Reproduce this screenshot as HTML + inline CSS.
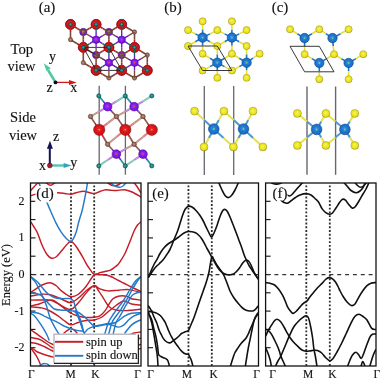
<!DOCTYPE html>
<html><head><meta charset="utf-8"><style>
html,body{margin:0;padding:0;background:#fff;width:382px;height:380px;overflow:hidden}
svg{display:block}
</style></head><body>
<svg width="382" height="380" viewBox="0 0 382 380">
<defs>
<radialGradient id="gRed" cx="0.47" cy="0.45" r="0.56"><stop offset="0" stop-color="#e83030"/><stop offset="0.6" stop-color="#d81212"/><stop offset="0.86" stop-color="#d81212"/><stop offset="1" stop-color="#a80c14"/></radialGradient>
<radialGradient id="gPur" cx="0.47" cy="0.45" r="0.56"><stop offset="0" stop-color="#9a40ff"/><stop offset="0.6" stop-color="#7e14ea"/><stop offset="0.86" stop-color="#7e14ea"/><stop offset="1" stop-color="#5a0cb0"/></radialGradient>
<radialGradient id="gBrn" cx="0.47" cy="0.45" r="0.56"><stop offset="0" stop-color="#c09080"/><stop offset="0.6" stop-color="#9a6a5a"/><stop offset="0.86" stop-color="#9a6a5a"/><stop offset="1" stop-color="#6a4038"/></radialGradient>
<radialGradient id="gTeal" cx="0.47" cy="0.45" r="0.56"><stop offset="0" stop-color="#40b0b0"/><stop offset="0.6" stop-color="#108080"/><stop offset="0.86" stop-color="#108080"/><stop offset="1" stop-color="#0a5858"/></radialGradient>
<radialGradient id="gBlue" cx="0.47" cy="0.45" r="0.56"><stop offset="0" stop-color="#3a94e4"/><stop offset="0.6" stop-color="#1a72cc"/><stop offset="0.86" stop-color="#1a72cc"/><stop offset="1" stop-color="#0c4890"/></radialGradient>
<radialGradient id="gYel" cx="0.47" cy="0.45" r="0.56"><stop offset="0" stop-color="#f8f460"/><stop offset="0.6" stop-color="#eae41c"/><stop offset="0.86" stop-color="#eae41c"/><stop offset="1" stop-color="#b0a010"/></radialGradient>
<clipPath id="cp0"><rect x="30.50" y="183.00" width="110.50" height="183.00"/></clipPath>
<clipPath id="cp1"><rect x="148.00" y="183.00" width="110.50" height="183.00"/></clipPath>
<clipPath id="cp2"><rect x="265.60" y="183.00" width="110.40" height="183.00"/></clipPath>
</defs>
<rect width="382" height="380" fill="#fff"/>
<circle cx="83.30" cy="32.00" r="3.65" fill="url(#gPur)" stroke="#3a0a70" stroke-width="0.5"/>
<circle cx="108.90" cy="32.00" r="3.65" fill="url(#gPur)" stroke="#3a0a70" stroke-width="0.5"/>
<circle cx="96.10" cy="55.00" r="3.65" fill="url(#gPur)" stroke="#3a0a70" stroke-width="0.5"/>
<circle cx="121.70" cy="55.00" r="3.65" fill="url(#gPur)" stroke="#3a0a70" stroke-width="0.5"/>
<circle cx="70.50" cy="24.40" r="5.05" fill="url(#gRed)" stroke="#6a0a1a" stroke-width="0.5"/>
<circle cx="70.50" cy="24.40" r="4.85" fill="none" stroke="#8a0c18" stroke-width="0.7"/>
<circle cx="96.10" cy="24.40" r="5.05" fill="url(#gRed)" stroke="#6a0a1a" stroke-width="0.5"/>
<circle cx="96.10" cy="24.40" r="4.85" fill="none" stroke="#8a0c18" stroke-width="0.7"/>
<circle cx="121.70" cy="24.40" r="5.05" fill="url(#gRed)" stroke="#6a0a1a" stroke-width="0.5"/>
<circle cx="121.70" cy="24.40" r="4.85" fill="none" stroke="#8a0c18" stroke-width="0.7"/>
<circle cx="83.30" cy="47.40" r="5.05" fill="url(#gRed)" stroke="#6a0a1a" stroke-width="0.5"/>
<circle cx="83.30" cy="47.40" r="4.85" fill="none" stroke="#8a0c18" stroke-width="0.7"/>
<circle cx="108.90" cy="47.40" r="5.05" fill="url(#gRed)" stroke="#6a0a1a" stroke-width="0.5"/>
<circle cx="108.90" cy="47.40" r="4.85" fill="none" stroke="#8a0c18" stroke-width="0.7"/>
<circle cx="134.50" cy="47.40" r="5.05" fill="url(#gRed)" stroke="#6a0a1a" stroke-width="0.5"/>
<circle cx="134.50" cy="47.40" r="4.85" fill="none" stroke="#8a0c18" stroke-width="0.7"/>
<circle cx="96.10" cy="70.40" r="5.05" fill="url(#gRed)" stroke="#6a0a1a" stroke-width="0.5"/>
<circle cx="96.10" cy="70.40" r="4.85" fill="none" stroke="#8a0c18" stroke-width="0.7"/>
<circle cx="121.70" cy="70.40" r="5.05" fill="url(#gRed)" stroke="#6a0a1a" stroke-width="0.5"/>
<circle cx="121.70" cy="70.40" r="4.85" fill="none" stroke="#8a0c18" stroke-width="0.7"/>
<circle cx="147.30" cy="70.40" r="5.05" fill="url(#gRed)" stroke="#6a0a1a" stroke-width="0.5"/>
<circle cx="147.30" cy="70.40" r="4.85" fill="none" stroke="#8a0c18" stroke-width="0.7"/>
<line x1="83.30" y1="32.00" x2="76.90" y2="28.20" stroke="#7a4a3c" stroke-width="1.60"/>
<line x1="76.90" y1="28.20" x2="70.50" y2="24.40" stroke="#c41818" stroke-width="1.60"/>
<line x1="83.30" y1="32.00" x2="89.70" y2="28.20" stroke="#7a4a3c" stroke-width="1.60"/>
<line x1="89.70" y1="28.20" x2="96.10" y2="24.40" stroke="#c41818" stroke-width="1.60"/>
<line x1="83.30" y1="32.00" x2="83.30" y2="39.70" stroke="#7a4a3c" stroke-width="1.60"/>
<line x1="83.30" y1="39.70" x2="83.30" y2="47.40" stroke="#c41818" stroke-width="1.60"/>
<line x1="108.90" y1="32.00" x2="102.50" y2="28.20" stroke="#7a4a3c" stroke-width="1.60"/>
<line x1="102.50" y1="28.20" x2="96.10" y2="24.40" stroke="#c41818" stroke-width="1.60"/>
<line x1="108.90" y1="32.00" x2="115.30" y2="28.20" stroke="#7a4a3c" stroke-width="1.60"/>
<line x1="115.30" y1="28.20" x2="121.70" y2="24.40" stroke="#c41818" stroke-width="1.60"/>
<line x1="108.90" y1="32.00" x2="108.90" y2="39.70" stroke="#7a4a3c" stroke-width="1.60"/>
<line x1="108.90" y1="39.70" x2="108.90" y2="47.40" stroke="#c41818" stroke-width="1.60"/>
<line x1="96.10" y1="55.00" x2="89.70" y2="51.20" stroke="#7a4a3c" stroke-width="1.60"/>
<line x1="89.70" y1="51.20" x2="83.30" y2="47.40" stroke="#c41818" stroke-width="1.60"/>
<line x1="96.10" y1="55.00" x2="102.50" y2="51.20" stroke="#7a4a3c" stroke-width="1.60"/>
<line x1="102.50" y1="51.20" x2="108.90" y2="47.40" stroke="#c41818" stroke-width="1.60"/>
<line x1="96.10" y1="55.00" x2="96.10" y2="62.70" stroke="#7a4a3c" stroke-width="1.60"/>
<line x1="96.10" y1="62.70" x2="96.10" y2="70.40" stroke="#c41818" stroke-width="1.60"/>
<line x1="121.70" y1="55.00" x2="115.30" y2="51.20" stroke="#7a4a3c" stroke-width="1.60"/>
<line x1="115.30" y1="51.20" x2="108.90" y2="47.40" stroke="#c41818" stroke-width="1.60"/>
<line x1="121.70" y1="55.00" x2="128.10" y2="51.20" stroke="#7a4a3c" stroke-width="1.60"/>
<line x1="128.10" y1="51.20" x2="134.50" y2="47.40" stroke="#c41818" stroke-width="1.60"/>
<line x1="121.70" y1="55.00" x2="121.70" y2="62.70" stroke="#7a4a3c" stroke-width="1.60"/>
<line x1="121.70" y1="62.70" x2="121.70" y2="70.40" stroke="#c41818" stroke-width="1.60"/>
<line x1="134.50" y1="32.00" x2="128.10" y2="28.20" stroke="#7a4a3c" stroke-width="1.60"/>
<line x1="128.10" y1="28.20" x2="121.70" y2="24.40" stroke="#c41818" stroke-width="1.60"/>
<line x1="134.50" y1="32.00" x2="134.50" y2="39.70" stroke="#7a4a3c" stroke-width="1.60"/>
<line x1="134.50" y1="39.70" x2="134.50" y2="47.40" stroke="#c41818" stroke-width="1.60"/>
<line x1="147.30" y1="55.00" x2="140.90" y2="51.20" stroke="#7a4a3c" stroke-width="1.60"/>
<line x1="140.90" y1="51.20" x2="134.50" y2="47.40" stroke="#c41818" stroke-width="1.60"/>
<line x1="147.30" y1="55.00" x2="147.30" y2="62.70" stroke="#7a4a3c" stroke-width="1.60"/>
<line x1="147.30" y1="62.70" x2="147.30" y2="70.40" stroke="#c41818" stroke-width="1.60"/>
<line x1="108.90" y1="78.00" x2="102.50" y2="74.20" stroke="#7a4a3c" stroke-width="1.60"/>
<line x1="102.50" y1="74.20" x2="96.10" y2="70.40" stroke="#c41818" stroke-width="1.60"/>
<line x1="108.90" y1="78.00" x2="115.30" y2="74.20" stroke="#7a4a3c" stroke-width="1.60"/>
<line x1="115.30" y1="74.20" x2="121.70" y2="70.40" stroke="#c41818" stroke-width="1.60"/>
<line x1="134.50" y1="78.00" x2="128.10" y2="74.20" stroke="#7a4a3c" stroke-width="1.60"/>
<line x1="128.10" y1="74.20" x2="121.70" y2="70.40" stroke="#c41818" stroke-width="1.60"/>
<line x1="134.50" y1="78.00" x2="140.90" y2="74.20" stroke="#7a4a3c" stroke-width="1.60"/>
<line x1="140.90" y1="74.20" x2="147.30" y2="70.40" stroke="#c41818" stroke-width="1.60"/>
<line x1="70.50" y1="39.70" x2="70.50" y2="32.05" stroke="#7a4a3c" stroke-width="1.60"/>
<line x1="70.50" y1="32.05" x2="70.50" y2="24.40" stroke="#c41818" stroke-width="1.60"/>
<line x1="70.50" y1="39.70" x2="76.90" y2="43.55" stroke="#7a4a3c" stroke-width="1.60"/>
<line x1="76.90" y1="43.55" x2="83.30" y2="47.40" stroke="#c41818" stroke-width="1.60"/>
<line x1="83.30" y1="62.70" x2="83.30" y2="55.05" stroke="#7a4a3c" stroke-width="1.60"/>
<line x1="83.30" y1="55.05" x2="83.30" y2="47.40" stroke="#c41818" stroke-width="1.60"/>
<line x1="83.30" y1="62.70" x2="89.70" y2="66.55" stroke="#7a4a3c" stroke-width="1.60"/>
<line x1="89.70" y1="66.55" x2="96.10" y2="70.40" stroke="#c41818" stroke-width="1.60"/>
<circle cx="83.30" cy="32.00" r="2.15" fill="url(#gBrn)" stroke="#4a2a22" stroke-width="0.5"/>
<circle cx="108.90" cy="32.00" r="2.15" fill="url(#gBrn)" stroke="#4a2a22" stroke-width="0.5"/>
<circle cx="96.10" cy="55.00" r="2.15" fill="url(#gBrn)" stroke="#4a2a22" stroke-width="0.5"/>
<circle cx="121.70" cy="55.00" r="2.15" fill="url(#gBrn)" stroke="#4a2a22" stroke-width="0.5"/>
<circle cx="134.50" cy="32.00" r="2.15" fill="url(#gBrn)" stroke="#4a2a22" stroke-width="0.5"/>
<circle cx="147.30" cy="55.00" r="2.15" fill="url(#gBrn)" stroke="#4a2a22" stroke-width="0.5"/>
<circle cx="108.90" cy="78.00" r="2.15" fill="url(#gBrn)" stroke="#4a2a22" stroke-width="0.5"/>
<circle cx="134.50" cy="78.00" r="2.15" fill="url(#gBrn)" stroke="#4a2a22" stroke-width="0.5"/>
<circle cx="70.50" cy="39.70" r="2.15" fill="url(#gBrn)" stroke="#4a2a22" stroke-width="0.5"/>
<circle cx="83.30" cy="62.70" r="2.15" fill="url(#gBrn)" stroke="#4a2a22" stroke-width="0.5"/>
<path d="M83.30,47.40 L108.90,47.40 L121.70,70.40 L96.10,70.40 Z M83.30,47.40 L121.70,70.40" fill="none" stroke="#222" stroke-width="0.9"/>
<line x1="96.10" y1="39.70" x2="89.70" y2="35.85" stroke="#6e16c8" stroke-width="1.35"/>
<line x1="89.70" y1="35.85" x2="83.30" y2="32.00" stroke="#7a4a3c" stroke-width="1.35"/>
<line x1="96.10" y1="39.70" x2="102.50" y2="35.85" stroke="#6e16c8" stroke-width="1.35"/>
<line x1="102.50" y1="35.85" x2="108.90" y2="32.00" stroke="#7a4a3c" stroke-width="1.35"/>
<line x1="96.10" y1="39.70" x2="96.10" y2="47.35" stroke="#6e16c8" stroke-width="1.35"/>
<line x1="96.10" y1="47.35" x2="96.10" y2="55.00" stroke="#7a4a3c" stroke-width="1.35"/>
<line x1="96.10" y1="39.70" x2="96.10" y2="32.05" stroke="#6e16c8" stroke-width="1.35"/>
<line x1="96.10" y1="32.05" x2="96.10" y2="24.40" stroke="#1e5e62" stroke-width="1.35"/>
<line x1="96.10" y1="39.70" x2="89.70" y2="43.55" stroke="#6e16c8" stroke-width="1.35"/>
<line x1="89.70" y1="43.55" x2="83.30" y2="47.40" stroke="#1e5e62" stroke-width="1.35"/>
<line x1="96.10" y1="39.70" x2="102.50" y2="43.55" stroke="#6e16c8" stroke-width="1.35"/>
<line x1="102.50" y1="43.55" x2="108.90" y2="47.40" stroke="#1e5e62" stroke-width="1.35"/>
<line x1="121.70" y1="39.70" x2="115.30" y2="35.85" stroke="#6e16c8" stroke-width="1.35"/>
<line x1="115.30" y1="35.85" x2="108.90" y2="32.00" stroke="#7a4a3c" stroke-width="1.35"/>
<line x1="121.70" y1="39.70" x2="121.70" y2="47.35" stroke="#6e16c8" stroke-width="1.35"/>
<line x1="121.70" y1="47.35" x2="121.70" y2="55.00" stroke="#7a4a3c" stroke-width="1.35"/>
<line x1="121.70" y1="39.70" x2="128.10" y2="35.85" stroke="#6e16c8" stroke-width="1.35"/>
<line x1="128.10" y1="35.85" x2="134.50" y2="32.00" stroke="#7a4a3c" stroke-width="1.35"/>
<line x1="121.70" y1="39.70" x2="121.70" y2="32.05" stroke="#6e16c8" stroke-width="1.35"/>
<line x1="121.70" y1="32.05" x2="121.70" y2="24.40" stroke="#1e5e62" stroke-width="1.35"/>
<line x1="121.70" y1="39.70" x2="115.30" y2="43.55" stroke="#6e16c8" stroke-width="1.35"/>
<line x1="115.30" y1="43.55" x2="108.90" y2="47.40" stroke="#1e5e62" stroke-width="1.35"/>
<line x1="121.70" y1="39.70" x2="128.10" y2="43.55" stroke="#6e16c8" stroke-width="1.35"/>
<line x1="128.10" y1="43.55" x2="134.50" y2="47.40" stroke="#1e5e62" stroke-width="1.35"/>
<line x1="108.90" y1="62.70" x2="102.50" y2="58.85" stroke="#6e16c8" stroke-width="1.35"/>
<line x1="102.50" y1="58.85" x2="96.10" y2="55.00" stroke="#7a4a3c" stroke-width="1.35"/>
<line x1="108.90" y1="62.70" x2="115.30" y2="58.85" stroke="#6e16c8" stroke-width="1.35"/>
<line x1="115.30" y1="58.85" x2="121.70" y2="55.00" stroke="#7a4a3c" stroke-width="1.35"/>
<line x1="108.90" y1="62.70" x2="108.90" y2="70.35" stroke="#6e16c8" stroke-width="1.35"/>
<line x1="108.90" y1="70.35" x2="108.90" y2="78.00" stroke="#7a4a3c" stroke-width="1.35"/>
<line x1="108.90" y1="62.70" x2="108.90" y2="55.05" stroke="#6e16c8" stroke-width="1.35"/>
<line x1="108.90" y1="55.05" x2="108.90" y2="47.40" stroke="#1e5e62" stroke-width="1.35"/>
<line x1="108.90" y1="62.70" x2="102.50" y2="66.55" stroke="#6e16c8" stroke-width="1.35"/>
<line x1="102.50" y1="66.55" x2="96.10" y2="70.40" stroke="#1e5e62" stroke-width="1.35"/>
<line x1="108.90" y1="62.70" x2="115.30" y2="66.55" stroke="#6e16c8" stroke-width="1.35"/>
<line x1="115.30" y1="66.55" x2="121.70" y2="70.40" stroke="#1e5e62" stroke-width="1.35"/>
<line x1="134.50" y1="62.70" x2="128.10" y2="58.85" stroke="#6e16c8" stroke-width="1.35"/>
<line x1="128.10" y1="58.85" x2="121.70" y2="55.00" stroke="#7a4a3c" stroke-width="1.35"/>
<line x1="134.50" y1="62.70" x2="140.90" y2="58.85" stroke="#6e16c8" stroke-width="1.35"/>
<line x1="140.90" y1="58.85" x2="147.30" y2="55.00" stroke="#7a4a3c" stroke-width="1.35"/>
<line x1="134.50" y1="62.70" x2="134.50" y2="70.35" stroke="#6e16c8" stroke-width="1.35"/>
<line x1="134.50" y1="70.35" x2="134.50" y2="78.00" stroke="#7a4a3c" stroke-width="1.35"/>
<line x1="134.50" y1="62.70" x2="134.50" y2="55.05" stroke="#6e16c8" stroke-width="1.35"/>
<line x1="134.50" y1="55.05" x2="134.50" y2="47.40" stroke="#1e5e62" stroke-width="1.35"/>
<line x1="134.50" y1="62.70" x2="128.10" y2="66.55" stroke="#6e16c8" stroke-width="1.35"/>
<line x1="128.10" y1="66.55" x2="121.70" y2="70.40" stroke="#1e5e62" stroke-width="1.35"/>
<line x1="134.50" y1="62.70" x2="140.90" y2="66.55" stroke="#6e16c8" stroke-width="1.35"/>
<line x1="140.90" y1="66.55" x2="147.30" y2="70.40" stroke="#1e5e62" stroke-width="1.35"/>
<circle cx="96.10" cy="39.70" r="3.75" fill="url(#gPur)" stroke="#3a0a70" stroke-width="0.5"/>
<circle cx="96.10" cy="39.70" r="0.8" fill="#e05030"/>
<circle cx="121.70" cy="39.70" r="3.75" fill="url(#gPur)" stroke="#3a0a70" stroke-width="0.5"/>
<circle cx="121.70" cy="39.70" r="0.8" fill="#e05030"/>
<circle cx="108.90" cy="62.70" r="3.75" fill="url(#gPur)" stroke="#3a0a70" stroke-width="0.5"/>
<circle cx="108.90" cy="62.70" r="0.8" fill="#e05030"/>
<circle cx="134.50" cy="62.70" r="3.75" fill="url(#gPur)" stroke="#3a0a70" stroke-width="0.5"/>
<circle cx="134.50" cy="62.70" r="0.8" fill="#e05030"/>
<circle cx="70.50" cy="24.40" r="1.85" fill="url(#gTeal)" stroke="#0a3a3a" stroke-width="0.5"/>
<circle cx="96.10" cy="24.40" r="1.85" fill="url(#gTeal)" stroke="#0a3a3a" stroke-width="0.5"/>
<circle cx="121.70" cy="24.40" r="1.85" fill="url(#gTeal)" stroke="#0a3a3a" stroke-width="0.5"/>
<circle cx="83.30" cy="47.40" r="1.85" fill="url(#gTeal)" stroke="#0a3a3a" stroke-width="0.5"/>
<circle cx="108.90" cy="47.40" r="1.85" fill="url(#gTeal)" stroke="#0a3a3a" stroke-width="0.5"/>
<circle cx="134.50" cy="47.40" r="1.85" fill="url(#gTeal)" stroke="#0a3a3a" stroke-width="0.5"/>
<circle cx="96.10" cy="70.40" r="1.85" fill="url(#gTeal)" stroke="#0a3a3a" stroke-width="0.5"/>
<circle cx="121.70" cy="70.40" r="1.85" fill="url(#gTeal)" stroke="#0a3a3a" stroke-width="0.5"/>
<circle cx="147.30" cy="70.40" r="1.85" fill="url(#gTeal)" stroke="#0a3a3a" stroke-width="0.5"/>
<line x1="55.5" y1="82.4" x2="69.5" y2="82.4" stroke="#d01818" stroke-width="1.3"/>
<path d="M69,79.9 L76.6,82.4 L69,84.9 Z" fill="#d01818"/>
<line x1="55.5" y1="82.4" x2="48" y2="70" stroke="#50c8a0" stroke-width="2.6"/>
<path d="M43.8,63.2 L50.8,68.2 L46.4,71 Z" fill="#50c8a0"/>
<circle cx="55.5" cy="82.4" r="1.9" fill="#0a0a30"/>
<line x1="99.2" y1="85.8" x2="99.2" y2="174.7" stroke="#66666e" stroke-width="1.3"/>
<line x1="125.4" y1="85.8" x2="125.4" y2="174.7" stroke="#66666e" stroke-width="1.3"/>
<line x1="98.80" y1="95.90" x2="103.20" y2="101.30" stroke="#1a9a9a" stroke-width="1.70"/>
<line x1="103.20" y1="101.30" x2="107.60" y2="106.70" stroke="#8020e0" stroke-width="1.70"/>
<line x1="125.30" y1="95.90" x2="116.45" y2="101.30" stroke="#70c0b0" stroke-width="2.00"/>
<line x1="116.45" y1="101.30" x2="107.60" y2="106.70" stroke="#b070d0" stroke-width="2.00"/>
<line x1="125.30" y1="95.90" x2="107.60" y2="106.70" stroke="#fff" stroke-opacity="0.45" stroke-width="0.6"/>
<line x1="125.30" y1="95.90" x2="129.70" y2="101.30" stroke="#1a9a9a" stroke-width="1.70"/>
<line x1="129.70" y1="101.30" x2="134.10" y2="106.70" stroke="#8020e0" stroke-width="1.70"/>
<line x1="151.80" y1="95.90" x2="142.95" y2="101.30" stroke="#70c0b0" stroke-width="2.00"/>
<line x1="142.95" y1="101.30" x2="134.10" y2="106.70" stroke="#b070d0" stroke-width="2.00"/>
<line x1="151.80" y1="95.90" x2="134.10" y2="106.70" stroke="#fff" stroke-opacity="0.45" stroke-width="0.6"/>
<line x1="107.60" y1="106.70" x2="99.05" y2="111.60" stroke="#b070d0" stroke-width="2.00"/>
<line x1="99.05" y1="111.60" x2="90.50" y2="116.50" stroke="#b88878" stroke-width="2.00"/>
<line x1="107.60" y1="106.70" x2="90.50" y2="116.50" stroke="#fff" stroke-opacity="0.45" stroke-width="0.6"/>
<line x1="107.60" y1="106.70" x2="112.00" y2="111.60" stroke="#8020e0" stroke-width="1.70"/>
<line x1="112.00" y1="111.60" x2="116.40" y2="116.50" stroke="#8a5a4a" stroke-width="1.70"/>
<line x1="134.10" y1="106.70" x2="125.25" y2="111.60" stroke="#b070d0" stroke-width="2.00"/>
<line x1="125.25" y1="111.60" x2="116.40" y2="116.50" stroke="#b88878" stroke-width="2.00"/>
<line x1="134.10" y1="106.70" x2="116.40" y2="116.50" stroke="#fff" stroke-opacity="0.45" stroke-width="0.6"/>
<line x1="134.10" y1="106.70" x2="138.55" y2="111.60" stroke="#8020e0" stroke-width="1.70"/>
<line x1="138.55" y1="111.60" x2="143.00" y2="116.50" stroke="#8a5a4a" stroke-width="1.70"/>
<line x1="90.50" y1="116.50" x2="94.85" y2="123.15" stroke="#8a5a4a" stroke-width="1.70"/>
<line x1="94.85" y1="123.15" x2="99.20" y2="129.80" stroke="#d02020" stroke-width="1.70"/>
<line x1="116.40" y1="116.50" x2="107.80" y2="123.15" stroke="#b88878" stroke-width="2.00"/>
<line x1="107.80" y1="123.15" x2="99.20" y2="129.80" stroke="#d86868" stroke-width="2.00"/>
<line x1="116.40" y1="116.50" x2="99.20" y2="129.80" stroke="#fff" stroke-opacity="0.45" stroke-width="0.6"/>
<line x1="116.40" y1="116.50" x2="120.85" y2="123.15" stroke="#8a5a4a" stroke-width="1.70"/>
<line x1="120.85" y1="123.15" x2="125.30" y2="129.80" stroke="#d02020" stroke-width="1.70"/>
<line x1="143.00" y1="116.50" x2="134.15" y2="123.15" stroke="#b88878" stroke-width="2.00"/>
<line x1="134.15" y1="123.15" x2="125.30" y2="129.80" stroke="#d86868" stroke-width="2.00"/>
<line x1="143.00" y1="116.50" x2="125.30" y2="129.80" stroke="#fff" stroke-opacity="0.45" stroke-width="0.6"/>
<line x1="143.00" y1="116.50" x2="147.40" y2="123.15" stroke="#8a5a4a" stroke-width="1.70"/>
<line x1="147.40" y1="123.15" x2="151.80" y2="129.80" stroke="#d02020" stroke-width="1.70"/>
<line x1="99.20" y1="129.80" x2="103.40" y2="137.05" stroke="#d02020" stroke-width="1.70"/>
<line x1="103.40" y1="137.05" x2="107.60" y2="144.30" stroke="#8a5a4a" stroke-width="1.70"/>
<line x1="125.30" y1="129.80" x2="116.45" y2="137.05" stroke="#d86868" stroke-width="2.00"/>
<line x1="116.45" y1="137.05" x2="107.60" y2="144.30" stroke="#b88878" stroke-width="2.00"/>
<line x1="125.30" y1="129.80" x2="107.60" y2="144.30" stroke="#fff" stroke-opacity="0.45" stroke-width="0.6"/>
<line x1="125.30" y1="129.80" x2="129.70" y2="137.05" stroke="#d02020" stroke-width="1.70"/>
<line x1="129.70" y1="137.05" x2="134.10" y2="144.30" stroke="#8a5a4a" stroke-width="1.70"/>
<line x1="151.80" y1="129.80" x2="142.95" y2="137.05" stroke="#d86868" stroke-width="2.00"/>
<line x1="142.95" y1="137.05" x2="134.10" y2="144.30" stroke="#b88878" stroke-width="2.00"/>
<line x1="151.80" y1="129.80" x2="134.10" y2="144.30" stroke="#fff" stroke-opacity="0.45" stroke-width="0.6"/>
<line x1="107.60" y1="144.30" x2="112.00" y2="149.20" stroke="#8a5a4a" stroke-width="1.70"/>
<line x1="112.00" y1="149.20" x2="116.40" y2="154.10" stroke="#8020e0" stroke-width="1.70"/>
<line x1="134.10" y1="144.30" x2="125.25" y2="149.20" stroke="#b88878" stroke-width="2.00"/>
<line x1="125.25" y1="149.20" x2="116.40" y2="154.10" stroke="#b070d0" stroke-width="2.00"/>
<line x1="134.10" y1="144.30" x2="116.40" y2="154.10" stroke="#fff" stroke-opacity="0.45" stroke-width="0.6"/>
<line x1="134.10" y1="144.30" x2="138.55" y2="149.20" stroke="#8a5a4a" stroke-width="1.70"/>
<line x1="138.55" y1="149.20" x2="143.00" y2="154.10" stroke="#8020e0" stroke-width="1.70"/>
<line x1="116.40" y1="154.10" x2="107.60" y2="160.00" stroke="#b070d0" stroke-width="2.00"/>
<line x1="107.60" y1="160.00" x2="98.80" y2="165.90" stroke="#70c0b0" stroke-width="2.00"/>
<line x1="116.40" y1="154.10" x2="98.80" y2="165.90" stroke="#fff" stroke-opacity="0.45" stroke-width="0.6"/>
<line x1="116.40" y1="154.10" x2="120.85" y2="160.00" stroke="#8020e0" stroke-width="1.70"/>
<line x1="120.85" y1="160.00" x2="125.30" y2="165.90" stroke="#1a9a9a" stroke-width="1.70"/>
<line x1="143.00" y1="154.10" x2="134.15" y2="160.00" stroke="#b070d0" stroke-width="2.00"/>
<line x1="134.15" y1="160.00" x2="125.30" y2="165.90" stroke="#70c0b0" stroke-width="2.00"/>
<line x1="143.00" y1="154.10" x2="125.30" y2="165.90" stroke="#fff" stroke-opacity="0.45" stroke-width="0.6"/>
<line x1="143.00" y1="154.10" x2="147.40" y2="160.00" stroke="#8020e0" stroke-width="1.70"/>
<line x1="147.40" y1="160.00" x2="151.80" y2="165.90" stroke="#1a9a9a" stroke-width="1.70"/>
<circle cx="98.80" cy="95.90" r="2.15" fill="url(#gTeal)" stroke="#0a3a3a" stroke-width="0.5"/>
<circle cx="125.30" cy="95.90" r="2.15" fill="url(#gTeal)" stroke="#0a3a3a" stroke-width="0.5"/>
<circle cx="151.80" cy="95.90" r="2.15" fill="url(#gTeal)" stroke="#0a3a3a" stroke-width="0.5"/>
<circle cx="107.60" cy="106.70" r="4.35" fill="url(#gPur)" stroke="#3a0a70" stroke-width="0.5"/>
<circle cx="107.60" cy="106.70" r="0.8" fill="#e05030"/>
<circle cx="134.10" cy="106.70" r="4.35" fill="url(#gPur)" stroke="#3a0a70" stroke-width="0.5"/>
<circle cx="134.10" cy="106.70" r="0.8" fill="#e05030"/>
<circle cx="90.50" cy="116.50" r="2.25" fill="url(#gBrn)" stroke="#4a2a22" stroke-width="0.5"/>
<circle cx="116.40" cy="116.50" r="2.25" fill="url(#gBrn)" stroke="#4a2a22" stroke-width="0.5"/>
<circle cx="143.00" cy="116.50" r="2.25" fill="url(#gBrn)" stroke="#4a2a22" stroke-width="0.5"/>
<circle cx="99.20" cy="129.80" r="5.65" fill="url(#gRed)" stroke="#6a0a1a" stroke-width="0.5"/>
<circle cx="99.20" cy="129.80" r="0.7" fill="#f2b0b0"/>
<circle cx="125.30" cy="129.80" r="5.65" fill="url(#gRed)" stroke="#6a0a1a" stroke-width="0.5"/>
<circle cx="125.30" cy="129.80" r="0.7" fill="#f2b0b0"/>
<circle cx="151.80" cy="129.80" r="5.65" fill="url(#gRed)" stroke="#6a0a1a" stroke-width="0.5"/>
<circle cx="151.80" cy="129.80" r="0.7" fill="#f2b0b0"/>
<circle cx="107.60" cy="144.30" r="2.25" fill="url(#gBrn)" stroke="#4a2a22" stroke-width="0.5"/>
<circle cx="134.10" cy="144.30" r="2.25" fill="url(#gBrn)" stroke="#4a2a22" stroke-width="0.5"/>
<circle cx="116.40" cy="154.10" r="4.35" fill="url(#gPur)" stroke="#3a0a70" stroke-width="0.5"/>
<circle cx="116.40" cy="154.10" r="0.8" fill="#e05030"/>
<circle cx="143.00" cy="154.10" r="4.35" fill="url(#gPur)" stroke="#3a0a70" stroke-width="0.5"/>
<circle cx="143.00" cy="154.10" r="0.8" fill="#e05030"/>
<circle cx="98.80" cy="165.90" r="2.15" fill="url(#gTeal)" stroke="#0a3a3a" stroke-width="0.5"/>
<circle cx="125.30" cy="165.90" r="2.15" fill="url(#gTeal)" stroke="#0a3a3a" stroke-width="0.5"/>
<circle cx="151.80" cy="165.90" r="2.15" fill="url(#gTeal)" stroke="#0a3a3a" stroke-width="0.5"/>
<line x1="49.8" y1="165.5" x2="49.8" y2="148" stroke="#141450" stroke-width="2"/>
<path d="M46.9,148.8 L50,140.8 L52.9,148.8 Z" fill="#141450"/>
<line x1="49.8" y1="165.5" x2="64" y2="165.5" stroke="#50c8b0" stroke-width="2.4"/>
<path d="M63.6,163 L71.7,165.5 L63.6,168 Z" fill="#3aa0c0"/>
<circle cx="49.8" cy="165.5" r="2.4" fill="#b01828" stroke="#401040" stroke-width="0.6"/>
<line x1="202.60" y1="37.60" x2="202.60" y2="29.45" stroke="#1e78cc" stroke-width="1.60"/>
<line x1="202.60" y1="29.45" x2="202.60" y2="21.30" stroke="#e8e030" stroke-width="1.60"/>
<line x1="202.60" y1="37.60" x2="195.30" y2="33.85" stroke="#1e78cc" stroke-width="1.60"/>
<line x1="195.30" y1="33.85" x2="188.00" y2="30.10" stroke="#e8e030" stroke-width="1.60"/>
<line x1="202.60" y1="37.60" x2="209.95" y2="33.85" stroke="#1e78cc" stroke-width="1.60"/>
<line x1="209.95" y1="33.85" x2="217.30" y2="30.10" stroke="#e8e030" stroke-width="1.60"/>
<line x1="202.60" y1="37.60" x2="195.30" y2="41.80" stroke="#1e78cc" stroke-width="1.60"/>
<line x1="195.30" y1="41.80" x2="188.00" y2="46.00" stroke="#e8e030" stroke-width="1.60"/>
<line x1="202.60" y1="37.60" x2="209.95" y2="41.80" stroke="#1e78cc" stroke-width="1.60"/>
<line x1="209.95" y1="41.80" x2="217.30" y2="46.00" stroke="#e8e030" stroke-width="1.60"/>
<line x1="202.60" y1="37.60" x2="202.60" y2="45.65" stroke="#1e78cc" stroke-width="1.60"/>
<line x1="202.60" y1="45.65" x2="202.60" y2="53.70" stroke="#e8e030" stroke-width="1.60"/>
<line x1="231.90" y1="37.60" x2="231.90" y2="29.45" stroke="#1e78cc" stroke-width="1.60"/>
<line x1="231.90" y1="29.45" x2="231.90" y2="21.30" stroke="#e8e030" stroke-width="1.60"/>
<line x1="231.90" y1="37.60" x2="224.60" y2="33.85" stroke="#1e78cc" stroke-width="1.60"/>
<line x1="224.60" y1="33.85" x2="217.30" y2="30.10" stroke="#e8e030" stroke-width="1.60"/>
<line x1="231.90" y1="37.60" x2="239.25" y2="33.85" stroke="#1e78cc" stroke-width="1.60"/>
<line x1="239.25" y1="33.85" x2="246.60" y2="30.10" stroke="#e8e030" stroke-width="1.60"/>
<line x1="231.90" y1="37.60" x2="224.60" y2="41.80" stroke="#1e78cc" stroke-width="1.60"/>
<line x1="224.60" y1="41.80" x2="217.30" y2="46.00" stroke="#e8e030" stroke-width="1.60"/>
<line x1="231.90" y1="37.60" x2="239.25" y2="41.80" stroke="#1e78cc" stroke-width="1.60"/>
<line x1="239.25" y1="41.80" x2="246.60" y2="46.00" stroke="#e8e030" stroke-width="1.60"/>
<line x1="231.90" y1="37.60" x2="231.90" y2="45.65" stroke="#1e78cc" stroke-width="1.60"/>
<line x1="231.90" y1="45.65" x2="231.90" y2="53.70" stroke="#e8e030" stroke-width="1.60"/>
<line x1="217.30" y1="62.70" x2="217.30" y2="54.35" stroke="#1e78cc" stroke-width="1.60"/>
<line x1="217.30" y1="54.35" x2="217.30" y2="46.00" stroke="#e8e030" stroke-width="1.60"/>
<line x1="217.30" y1="62.70" x2="209.95" y2="58.20" stroke="#1e78cc" stroke-width="1.60"/>
<line x1="209.95" y1="58.20" x2="202.60" y2="53.70" stroke="#e8e030" stroke-width="1.60"/>
<line x1="217.30" y1="62.70" x2="224.60" y2="58.20" stroke="#1e78cc" stroke-width="1.60"/>
<line x1="224.60" y1="58.20" x2="231.90" y2="53.70" stroke="#e8e030" stroke-width="1.60"/>
<line x1="217.30" y1="62.70" x2="209.95" y2="66.60" stroke="#1e78cc" stroke-width="1.60"/>
<line x1="209.95" y1="66.60" x2="202.60" y2="70.50" stroke="#e8e030" stroke-width="1.60"/>
<line x1="217.30" y1="62.70" x2="224.60" y2="66.60" stroke="#1e78cc" stroke-width="1.60"/>
<line x1="224.60" y1="66.60" x2="231.90" y2="70.50" stroke="#e8e030" stroke-width="1.60"/>
<line x1="217.30" y1="62.70" x2="217.30" y2="70.25" stroke="#1e78cc" stroke-width="1.60"/>
<line x1="217.30" y1="70.25" x2="217.30" y2="77.80" stroke="#e8e030" stroke-width="1.60"/>
<line x1="246.60" y1="62.70" x2="246.60" y2="54.35" stroke="#1e78cc" stroke-width="1.60"/>
<line x1="246.60" y1="54.35" x2="246.60" y2="46.00" stroke="#e8e030" stroke-width="1.60"/>
<line x1="246.60" y1="62.70" x2="239.25" y2="58.20" stroke="#1e78cc" stroke-width="1.60"/>
<line x1="239.25" y1="58.20" x2="231.90" y2="53.70" stroke="#e8e030" stroke-width="1.60"/>
<line x1="246.60" y1="62.70" x2="253.10" y2="58.20" stroke="#1e78cc" stroke-width="1.60"/>
<line x1="253.10" y1="58.20" x2="259.60" y2="53.70" stroke="#e8e030" stroke-width="1.60"/>
<line x1="246.60" y1="62.70" x2="239.25" y2="66.60" stroke="#1e78cc" stroke-width="1.60"/>
<line x1="239.25" y1="66.60" x2="231.90" y2="70.50" stroke="#e8e030" stroke-width="1.60"/>
<line x1="246.60" y1="62.70" x2="246.60" y2="70.25" stroke="#1e78cc" stroke-width="1.60"/>
<line x1="246.60" y1="70.25" x2="246.60" y2="77.80" stroke="#e8e030" stroke-width="1.60"/>
<circle cx="202.60" cy="21.30" r="3.55" fill="url(#gYel)" stroke="#9a8a10" stroke-width="0.5"/>
<circle cx="231.90" cy="21.30" r="3.55" fill="url(#gYel)" stroke="#9a8a10" stroke-width="0.5"/>
<circle cx="188.00" cy="30.10" r="3.55" fill="url(#gYel)" stroke="#9a8a10" stroke-width="0.5"/>
<circle cx="217.30" cy="30.10" r="3.55" fill="url(#gYel)" stroke="#9a8a10" stroke-width="0.5"/>
<circle cx="246.60" cy="30.10" r="3.55" fill="url(#gYel)" stroke="#9a8a10" stroke-width="0.5"/>
<circle cx="188.00" cy="46.00" r="3.55" fill="url(#gYel)" stroke="#9a8a10" stroke-width="0.5"/>
<circle cx="217.30" cy="46.00" r="3.55" fill="url(#gYel)" stroke="#9a8a10" stroke-width="0.5"/>
<circle cx="246.60" cy="46.00" r="3.55" fill="url(#gYel)" stroke="#9a8a10" stroke-width="0.5"/>
<circle cx="202.60" cy="53.70" r="3.55" fill="url(#gYel)" stroke="#9a8a10" stroke-width="0.5"/>
<circle cx="231.90" cy="53.70" r="3.55" fill="url(#gYel)" stroke="#9a8a10" stroke-width="0.5"/>
<circle cx="259.60" cy="53.70" r="3.55" fill="url(#gYel)" stroke="#9a8a10" stroke-width="0.5"/>
<circle cx="202.60" cy="70.50" r="3.55" fill="url(#gYel)" stroke="#9a8a10" stroke-width="0.5"/>
<circle cx="231.90" cy="70.50" r="3.55" fill="url(#gYel)" stroke="#9a8a10" stroke-width="0.5"/>
<circle cx="217.30" cy="77.80" r="3.55" fill="url(#gYel)" stroke="#9a8a10" stroke-width="0.5"/>
<circle cx="246.60" cy="77.80" r="3.55" fill="url(#gYel)" stroke="#9a8a10" stroke-width="0.5"/>
<circle cx="202.60" cy="37.60" r="4.75" fill="url(#gBlue)" stroke="#0a3a78" stroke-width="0.5"/>
<circle cx="202.60" cy="37.60" r="0.9" fill="#70c890"/>
<circle cx="231.90" cy="37.60" r="4.75" fill="url(#gBlue)" stroke="#0a3a78" stroke-width="0.5"/>
<circle cx="231.90" cy="37.60" r="0.9" fill="#70c890"/>
<circle cx="217.30" cy="62.70" r="4.75" fill="url(#gBlue)" stroke="#0a3a78" stroke-width="0.5"/>
<circle cx="217.30" cy="62.70" r="0.9" fill="#70c890"/>
<circle cx="246.60" cy="62.70" r="4.75" fill="url(#gBlue)" stroke="#0a3a78" stroke-width="0.5"/>
<circle cx="246.60" cy="62.70" r="0.9" fill="#70c890"/>
<path d="M188,46 L217.3,46 L231.9,70.5 L202.6,70.5 Z" fill="none" stroke="#222" stroke-width="0.9"/>
<line x1="304.60" y1="38.10" x2="297.30" y2="33.70" stroke="#1e78cc" stroke-width="1.60"/>
<line x1="297.30" y1="33.70" x2="290.00" y2="29.30" stroke="#e8e030" stroke-width="1.60"/>
<line x1="304.60" y1="38.10" x2="311.95" y2="33.70" stroke="#1e78cc" stroke-width="1.60"/>
<line x1="311.95" y1="33.70" x2="319.30" y2="29.30" stroke="#e8e030" stroke-width="1.60"/>
<line x1="304.60" y1="38.10" x2="304.60" y2="46.15" stroke="#1e78cc" stroke-width="1.60"/>
<line x1="304.60" y1="46.15" x2="304.60" y2="54.20" stroke="#e8e030" stroke-width="1.60"/>
<line x1="332.50" y1="38.10" x2="325.90" y2="33.70" stroke="#1e78cc" stroke-width="1.60"/>
<line x1="325.90" y1="33.70" x2="319.30" y2="29.30" stroke="#e8e030" stroke-width="1.60"/>
<line x1="332.50" y1="38.10" x2="340.55" y2="33.70" stroke="#1e78cc" stroke-width="1.60"/>
<line x1="340.55" y1="33.70" x2="348.60" y2="29.30" stroke="#e8e030" stroke-width="1.60"/>
<line x1="332.50" y1="38.10" x2="333.25" y2="46.15" stroke="#1e78cc" stroke-width="1.60"/>
<line x1="333.25" y1="46.15" x2="334.00" y2="54.20" stroke="#e8e030" stroke-width="1.60"/>
<line x1="319.30" y1="63.00" x2="311.95" y2="58.60" stroke="#1e78cc" stroke-width="1.60"/>
<line x1="311.95" y1="58.60" x2="304.60" y2="54.20" stroke="#e8e030" stroke-width="1.60"/>
<line x1="319.30" y1="63.00" x2="326.65" y2="58.60" stroke="#1e78cc" stroke-width="1.60"/>
<line x1="326.65" y1="58.60" x2="334.00" y2="54.20" stroke="#e8e030" stroke-width="1.60"/>
<line x1="319.30" y1="63.00" x2="319.30" y2="71.10" stroke="#1e78cc" stroke-width="1.60"/>
<line x1="319.30" y1="71.10" x2="319.30" y2="79.20" stroke="#e8e030" stroke-width="1.60"/>
<line x1="348.60" y1="63.00" x2="341.30" y2="58.60" stroke="#1e78cc" stroke-width="1.60"/>
<line x1="341.30" y1="58.60" x2="334.00" y2="54.20" stroke="#e8e030" stroke-width="1.60"/>
<line x1="348.60" y1="63.00" x2="355.95" y2="58.60" stroke="#1e78cc" stroke-width="1.60"/>
<line x1="355.95" y1="58.60" x2="363.30" y2="54.20" stroke="#e8e030" stroke-width="1.60"/>
<line x1="348.60" y1="63.00" x2="348.60" y2="71.10" stroke="#1e78cc" stroke-width="1.60"/>
<line x1="348.60" y1="71.10" x2="348.60" y2="79.20" stroke="#e8e030" stroke-width="1.60"/>
<circle cx="290.00" cy="29.30" r="3.55" fill="url(#gYel)" stroke="#9a8a10" stroke-width="0.5"/>
<circle cx="319.30" cy="29.30" r="3.55" fill="url(#gYel)" stroke="#9a8a10" stroke-width="0.5"/>
<circle cx="348.60" cy="29.30" r="3.55" fill="url(#gYel)" stroke="#9a8a10" stroke-width="0.5"/>
<circle cx="304.60" cy="54.20" r="3.55" fill="url(#gYel)" stroke="#9a8a10" stroke-width="0.5"/>
<circle cx="334.00" cy="54.20" r="3.55" fill="url(#gYel)" stroke="#9a8a10" stroke-width="0.5"/>
<circle cx="363.30" cy="54.20" r="3.55" fill="url(#gYel)" stroke="#9a8a10" stroke-width="0.5"/>
<circle cx="319.30" cy="79.20" r="3.55" fill="url(#gYel)" stroke="#9a8a10" stroke-width="0.5"/>
<circle cx="348.60" cy="79.20" r="3.55" fill="url(#gYel)" stroke="#9a8a10" stroke-width="0.5"/>
<circle cx="304.60" cy="38.10" r="4.75" fill="url(#gBlue)" stroke="#0a3a78" stroke-width="0.5"/>
<circle cx="304.60" cy="38.10" r="0.9" fill="#70c890"/>
<circle cx="332.50" cy="38.10" r="4.75" fill="url(#gBlue)" stroke="#0a3a78" stroke-width="0.5"/>
<circle cx="332.50" cy="38.10" r="0.9" fill="#70c890"/>
<circle cx="319.30" cy="63.00" r="4.75" fill="url(#gBlue)" stroke="#0a3a78" stroke-width="0.5"/>
<circle cx="319.30" cy="63.00" r="0.9" fill="#70c890"/>
<circle cx="348.60" cy="63.00" r="4.75" fill="url(#gBlue)" stroke="#0a3a78" stroke-width="0.5"/>
<circle cx="348.60" cy="63.00" r="0.9" fill="#70c890"/>
<path d="M290,46.3 L319.3,46.3 L334,71.8 L304.6,71.8 Z" fill="none" stroke="#222" stroke-width="0.9"/>
<line x1="204.3" y1="86.1" x2="204.3" y2="175" stroke="#66666e" stroke-width="1.3"/>
<line x1="233.7" y1="86.1" x2="233.7" y2="175" stroke="#66666e" stroke-width="1.3"/>
<line x1="213.80" y1="129.00" x2="204.15" y2="120.05" stroke="#4a9ad0" stroke-width="2.00"/>
<line x1="204.15" y1="120.05" x2="194.50" y2="111.10" stroke="#e4e050" stroke-width="2.00"/>
<line x1="213.80" y1="129.00" x2="218.85" y2="120.05" stroke="#4a9ad0" stroke-width="2.00"/>
<line x1="218.85" y1="120.05" x2="223.90" y2="111.10" stroke="#e4e050" stroke-width="2.00"/>
<line x1="213.80" y1="129.00" x2="208.90" y2="137.95" stroke="#4a9ad0" stroke-width="2.00"/>
<line x1="208.90" y1="137.95" x2="204.00" y2="146.90" stroke="#e4e050" stroke-width="2.00"/>
<line x1="213.80" y1="129.00" x2="223.60" y2="137.95" stroke="#4a9ad0" stroke-width="2.00"/>
<line x1="223.60" y1="137.95" x2="233.40" y2="146.90" stroke="#e4e050" stroke-width="2.00"/>
<line x1="243.50" y1="129.00" x2="233.70" y2="120.05" stroke="#4a9ad0" stroke-width="2.00"/>
<line x1="233.70" y1="120.05" x2="223.90" y2="111.10" stroke="#e4e050" stroke-width="2.00"/>
<line x1="243.50" y1="129.00" x2="248.25" y2="120.05" stroke="#4a9ad0" stroke-width="2.00"/>
<line x1="248.25" y1="120.05" x2="253.00" y2="111.10" stroke="#e4e050" stroke-width="2.00"/>
<line x1="243.50" y1="129.00" x2="238.45" y2="137.95" stroke="#4a9ad0" stroke-width="2.00"/>
<line x1="238.45" y1="137.95" x2="233.40" y2="146.90" stroke="#e4e050" stroke-width="2.00"/>
<line x1="243.50" y1="129.00" x2="253.15" y2="137.95" stroke="#4a9ad0" stroke-width="2.00"/>
<line x1="253.15" y1="137.95" x2="262.80" y2="146.90" stroke="#e4e050" stroke-width="2.00"/>
<circle cx="194.50" cy="111.10" r="3.95" fill="url(#gYel)" stroke="#9a8a10" stroke-width="0.5"/>
<circle cx="223.90" cy="111.10" r="3.95" fill="url(#gYel)" stroke="#9a8a10" stroke-width="0.5"/>
<circle cx="253.00" cy="111.10" r="3.95" fill="url(#gYel)" stroke="#9a8a10" stroke-width="0.5"/>
<circle cx="204.00" cy="146.90" r="3.95" fill="url(#gYel)" stroke="#9a8a10" stroke-width="0.5"/>
<circle cx="233.40" cy="146.90" r="3.95" fill="url(#gYel)" stroke="#9a8a10" stroke-width="0.5"/>
<circle cx="262.80" cy="146.90" r="3.95" fill="url(#gYel)" stroke="#9a8a10" stroke-width="0.5"/>
<circle cx="213.80" cy="129.00" r="5.35" fill="url(#gBlue)" stroke="#0a3a78" stroke-width="0.5"/>
<circle cx="213.80" cy="129.00" r="1.0" fill="#70c890"/>
<circle cx="243.50" cy="129.00" r="5.35" fill="url(#gBlue)" stroke="#0a3a78" stroke-width="0.5"/>
<circle cx="243.50" cy="129.00" r="1.0" fill="#70c890"/>
<line x1="307" y1="86.5" x2="307" y2="174.8" stroke="#66666e" stroke-width="1.4"/>
<line x1="335.6" y1="86.5" x2="335.6" y2="174.8" stroke="#66666e" stroke-width="1.4"/>
<line x1="316.60" y1="129.40" x2="307.00" y2="121.40" stroke="#4a9ad0" stroke-width="2.00"/>
<line x1="307.00" y1="121.40" x2="297.40" y2="113.40" stroke="#e4e050" stroke-width="2.00"/>
<line x1="316.60" y1="129.40" x2="321.25" y2="121.40" stroke="#4a9ad0" stroke-width="2.00"/>
<line x1="321.25" y1="121.40" x2="325.90" y2="113.40" stroke="#e4e050" stroke-width="2.00"/>
<line x1="316.60" y1="129.40" x2="307.00" y2="137.40" stroke="#4a9ad0" stroke-width="2.00"/>
<line x1="307.00" y1="137.40" x2="297.40" y2="145.40" stroke="#e4e050" stroke-width="2.00"/>
<line x1="316.60" y1="129.40" x2="321.25" y2="137.40" stroke="#4a9ad0" stroke-width="2.00"/>
<line x1="321.25" y1="137.40" x2="325.90" y2="145.40" stroke="#e4e050" stroke-width="2.00"/>
<line x1="344.90" y1="129.40" x2="335.40" y2="121.40" stroke="#4a9ad0" stroke-width="2.00"/>
<line x1="335.40" y1="121.40" x2="325.90" y2="113.40" stroke="#e4e050" stroke-width="2.00"/>
<line x1="344.90" y1="129.40" x2="349.85" y2="121.40" stroke="#4a9ad0" stroke-width="2.00"/>
<line x1="349.85" y1="121.40" x2="354.80" y2="113.40" stroke="#e4e050" stroke-width="2.00"/>
<line x1="344.90" y1="129.40" x2="335.40" y2="137.40" stroke="#4a9ad0" stroke-width="2.00"/>
<line x1="335.40" y1="137.40" x2="325.90" y2="145.40" stroke="#e4e050" stroke-width="2.00"/>
<line x1="344.90" y1="129.40" x2="349.85" y2="137.40" stroke="#4a9ad0" stroke-width="2.00"/>
<line x1="349.85" y1="137.40" x2="354.80" y2="145.40" stroke="#e4e050" stroke-width="2.00"/>
<circle cx="297.40" cy="113.40" r="3.95" fill="url(#gYel)" stroke="#9a8a10" stroke-width="0.5"/>
<circle cx="325.90" cy="113.40" r="3.95" fill="url(#gYel)" stroke="#9a8a10" stroke-width="0.5"/>
<circle cx="354.80" cy="113.40" r="3.95" fill="url(#gYel)" stroke="#9a8a10" stroke-width="0.5"/>
<circle cx="297.40" cy="145.40" r="3.95" fill="url(#gYel)" stroke="#9a8a10" stroke-width="0.5"/>
<circle cx="325.90" cy="145.40" r="3.95" fill="url(#gYel)" stroke="#9a8a10" stroke-width="0.5"/>
<circle cx="354.80" cy="145.40" r="3.95" fill="url(#gYel)" stroke="#9a8a10" stroke-width="0.5"/>
<circle cx="316.60" cy="129.40" r="5.35" fill="url(#gBlue)" stroke="#0a3a78" stroke-width="0.5"/>
<circle cx="316.60" cy="129.40" r="1.0" fill="#70c890"/>
<circle cx="344.90" cy="129.40" r="5.35" fill="url(#gBlue)" stroke="#0a3a78" stroke-width="0.5"/>
<circle cx="344.90" cy="129.40" r="1.0" fill="#70c890"/>
<line x1="30.50" y1="347.70" x2="35.50" y2="347.70" stroke="#111" stroke-width="1.1"/>
<line x1="30.50" y1="329.40" x2="35.50" y2="329.40" stroke="#111" stroke-width="1.1"/>
<line x1="30.50" y1="311.10" x2="35.50" y2="311.10" stroke="#111" stroke-width="1.1"/>
<line x1="30.50" y1="292.80" x2="35.50" y2="292.80" stroke="#111" stroke-width="1.1"/>
<line x1="30.50" y1="274.50" x2="35.50" y2="274.50" stroke="#111" stroke-width="1.1"/>
<line x1="30.50" y1="256.20" x2="35.50" y2="256.20" stroke="#111" stroke-width="1.1"/>
<line x1="30.50" y1="237.90" x2="35.50" y2="237.90" stroke="#111" stroke-width="1.1"/>
<line x1="30.50" y1="219.60" x2="35.50" y2="219.60" stroke="#111" stroke-width="1.1"/>
<line x1="30.50" y1="201.30" x2="35.50" y2="201.30" stroke="#111" stroke-width="1.1"/>
<line x1="71.00" y1="185.38" x2="71.00" y2="366.00" stroke="#2e2e2e" stroke-width="1.8" stroke-dasharray="1.9 1.82"/>
<line x1="94.20" y1="185.38" x2="94.20" y2="366.00" stroke="#2e2e2e" stroke-width="1.8" stroke-dasharray="1.9 1.82"/>
<line x1="30.50" y1="274.60" x2="141.00" y2="274.60" stroke="#333" stroke-width="1.4" stroke-dasharray="3.9 3.95" stroke-dashoffset="5.95"/>
<g clip-path="url(#cp0)">
<path d="M30.40,191.00 C30.83,190.50 32.07,189.03 33.00,188.00 C33.93,186.97 35.08,185.80 36.00,184.80 C36.92,183.80 38.08,182.47 38.50,182.00" fill="none" stroke="#c41e28" stroke-width="1.45" stroke-linejoin="round" stroke-linecap="round"/>
<path d="M44.50,181.50 C45.50,182.13 48.50,185.30 50.50,185.30 C52.50,185.30 55.50,182.13 56.50,181.50" fill="none" stroke="#c41e28" stroke-width="1.45" stroke-linejoin="round" stroke-linecap="round"/>
<path d="M30.40,196.00 C31.17,195.73 32.57,194.90 35.00,194.40 C37.43,193.90 41.17,193.27 45.00,193.00 C48.83,192.73 54.67,192.72 58.00,192.80 C61.33,192.88 62.88,193.25 65.00,193.50 C67.12,193.75 68.70,194.47 70.70,194.30 C72.70,194.13 74.90,193.00 77.00,192.50 C79.10,192.00 81.30,191.30 83.30,191.30 C85.30,191.30 87.17,192.12 89.00,192.50 C90.83,192.88 92.47,193.77 94.30,193.60 C96.13,193.43 98.10,192.15 100.00,191.50 C101.90,190.85 103.87,189.90 105.70,189.70 C107.53,189.50 109.15,190.17 111.00,190.30 C112.85,190.43 114.52,190.60 116.80,190.50 C119.08,190.40 122.17,189.45 124.70,189.70 C127.23,189.95 129.30,190.82 132.00,192.00 C134.70,193.18 139.42,196.00 140.90,196.80" fill="none" stroke="#c41e28" stroke-width="1.45" stroke-linejoin="round" stroke-linecap="round"/>
<path d="M106.00,181.50 C106.83,182.08 109.47,184.30 111.00,185.00 C112.53,185.70 113.87,185.78 115.20,185.70 C116.53,185.62 117.70,185.20 119.00,184.50 C120.30,183.80 122.33,182.00 123.00,181.50" fill="none" stroke="#c41e28" stroke-width="1.45" stroke-linejoin="round" stroke-linecap="round"/>
<path d="M133.00,181.50 C133.67,182.33 135.68,184.62 137.00,186.50 C138.32,188.38 140.25,191.75 140.90,192.80" fill="none" stroke="#c41e28" stroke-width="1.45" stroke-linejoin="round" stroke-linecap="round"/>
<path d="M30.40,221.30 C31.00,222.25 32.82,225.05 34.00,227.00 C35.18,228.95 36.17,230.00 37.50,233.00 C38.83,236.00 40.42,241.42 42.00,245.00 C43.58,248.58 45.43,252.30 47.00,254.50 C48.57,256.70 49.90,257.78 51.40,258.20 C52.90,258.62 54.40,258.12 56.00,257.00 C57.60,255.88 59.33,253.42 61.00,251.50 C62.67,249.58 64.38,247.20 66.00,245.50 C67.62,243.80 69.20,241.38 70.70,241.30 C72.20,241.22 73.45,243.13 75.00,245.00 C76.55,246.87 78.50,250.08 80.00,252.50 C81.50,254.92 82.67,257.17 84.00,259.50 C85.33,261.83 86.28,264.02 88.00,266.50 C89.72,268.98 92.30,273.38 94.30,274.40 C96.30,275.42 98.10,273.12 100.00,272.60 C101.90,272.08 104.03,271.68 105.70,271.30 C107.37,270.92 108.68,270.83 110.00,270.30 C111.32,269.77 112.27,269.07 113.60,268.10 C114.93,267.13 116.68,265.95 118.00,264.50 C119.32,263.05 120.33,261.23 121.50,259.40 C122.67,257.57 123.95,255.60 125.00,253.50 C126.05,251.40 126.80,249.22 127.80,246.80 C128.80,244.38 129.95,241.63 131.00,239.00 C132.05,236.37 133.02,233.33 134.10,231.00 C135.18,228.67 136.37,226.50 137.50,225.00 C138.63,223.50 140.33,222.50 140.90,222.00" fill="none" stroke="#c41e28" stroke-width="1.45" stroke-linejoin="round" stroke-linecap="round"/>
<path d="M30.40,292.50 C31.33,291.88 34.07,290.05 36.00,288.80 C37.93,287.55 39.65,286.00 42.00,285.00 C44.35,284.00 47.77,282.72 50.10,282.80 C52.43,282.88 54.10,284.15 56.00,285.50 C57.90,286.85 59.05,289.05 61.50,290.90 C63.95,292.75 67.95,296.00 70.70,296.60 C73.45,297.20 75.45,296.18 78.00,294.50 C80.55,292.82 83.28,289.82 86.00,286.50 C88.72,283.18 91.97,276.55 94.30,274.60 C96.63,272.65 97.83,274.70 100.00,274.80 C102.17,274.90 105.03,274.70 107.30,275.20 C109.57,275.70 111.73,276.92 113.60,277.80 C115.47,278.68 116.83,279.63 118.50,280.50 C120.17,281.37 121.43,281.92 123.60,283.00 C125.77,284.08 128.62,285.58 131.50,287.00 C134.38,288.42 139.33,290.75 140.90,291.50" fill="none" stroke="#c41e28" stroke-width="1.45" stroke-linejoin="round" stroke-linecap="round"/>
<path d="M30.40,296.20 C32.20,295.87 37.87,294.43 41.20,294.20 C44.53,293.97 47.12,294.03 50.40,294.80 C53.68,295.57 57.52,297.48 60.90,298.80 C64.28,300.12 67.68,302.92 70.70,302.70 C73.72,302.48 76.28,299.62 79.00,297.50 C81.72,295.38 84.45,291.98 87.00,290.00 C89.55,288.02 92.15,285.78 94.30,285.60 C96.45,285.42 97.65,288.02 99.90,288.90 C102.15,289.78 104.73,290.68 107.80,290.90 C110.87,291.12 114.80,290.42 118.30,290.20 C121.80,289.98 125.03,289.22 128.80,289.60 C132.57,289.98 138.88,292.02 140.90,292.50" fill="none" stroke="#c41e28" stroke-width="1.45" stroke-linejoin="round" stroke-linecap="round"/>
<path d="M30.40,300.10 C32.17,300.08 37.67,300.00 41.00,300.00 C44.33,300.00 47.08,299.20 50.40,300.10 C53.72,301.00 57.52,303.83 60.90,305.40 C64.28,306.97 67.68,310.07 70.70,309.50 C73.72,308.93 76.28,304.92 79.00,302.00 C81.72,299.08 84.45,294.73 87.00,292.00 C89.55,289.27 92.37,285.78 94.30,285.60 C96.23,285.42 97.02,288.70 98.60,290.90 C100.18,293.10 102.05,296.17 103.80,298.80 C105.55,301.43 107.12,304.83 109.10,306.70 C111.08,308.57 112.85,309.35 115.70,310.00 C118.55,310.65 122.00,310.72 126.20,310.60 C130.40,310.48 138.45,309.52 140.90,309.30" fill="none" stroke="#c41e28" stroke-width="1.45" stroke-linejoin="round" stroke-linecap="round"/>
<path d="M30.40,306.00 C31.75,305.70 36.27,304.85 38.50,304.20 C40.73,303.55 41.60,302.80 43.80,302.10 C46.00,301.40 49.50,299.93 51.70,300.00 C53.90,300.07 55.25,301.38 57.00,302.50 C58.75,303.62 59.92,304.95 62.20,306.70 C64.48,308.45 68.07,311.45 70.70,313.00 C73.33,314.55 75.45,315.25 78.00,316.00 C80.55,316.75 83.28,317.30 86.00,317.50 C88.72,317.70 91.98,317.47 94.30,317.20 C96.62,316.93 98.08,317.00 99.90,315.90 C101.72,314.80 103.67,312.58 105.20,310.60 C106.73,308.62 107.80,305.97 109.10,304.00 C110.40,302.03 111.47,300.10 113.00,298.80 C114.53,297.50 116.10,296.63 118.30,296.20 C120.50,295.77 124.00,295.77 126.20,296.20 C128.40,296.63 129.05,298.15 131.50,298.80 C133.95,299.45 139.33,299.88 140.90,300.10" fill="none" stroke="#c41e28" stroke-width="1.45" stroke-linejoin="round" stroke-linecap="round"/>
<path d="M30.40,306.80 C32.28,306.98 38.60,307.28 41.70,307.90 C44.80,308.52 46.28,309.18 49.00,310.50 C51.72,311.82 55.50,314.13 58.00,315.80 C60.50,317.47 61.88,319.00 64.00,320.50 C66.12,322.00 68.37,324.47 70.70,324.80 C73.03,325.13 75.45,323.22 78.00,322.50 C80.55,321.78 83.28,320.92 86.00,320.50 C88.72,320.08 91.63,320.58 94.30,320.00 C96.97,319.42 99.55,318.50 102.00,317.00 C104.45,315.50 106.67,312.92 109.00,311.00 C111.33,309.08 113.57,307.17 116.00,305.50 C118.43,303.83 121.02,301.25 123.60,301.00 C126.18,300.75 128.62,303.30 131.50,304.00 C134.38,304.70 139.33,305.00 140.90,305.20" fill="none" stroke="#c41e28" stroke-width="1.45" stroke-linejoin="round" stroke-linecap="round"/>
<path d="M30.40,329.50 C31.40,330.20 34.17,332.12 36.40,333.70 C38.63,335.28 41.70,337.53 43.80,339.00 C45.90,340.47 47.30,341.50 49.00,342.50 C50.70,343.50 53.17,344.58 54.00,345.00" fill="none" stroke="#c41e28" stroke-width="1.45" stroke-linejoin="round" stroke-linecap="round"/>
<path d="M30.40,337.40 C31.75,337.67 36.07,338.15 38.50,339.00 C40.93,339.85 42.80,341.12 45.00,342.50 C47.20,343.88 49.87,346.22 51.70,347.30 C53.53,348.38 55.28,348.72 56.00,349.00" fill="none" stroke="#c41e28" stroke-width="1.45" stroke-linejoin="round" stroke-linecap="round"/>
<path d="M30.40,342.60 C31.67,342.83 35.57,343.27 38.00,344.00 C40.43,344.73 42.72,345.92 45.00,347.00 C47.28,348.08 49.87,349.67 51.70,350.50 C53.53,351.33 55.28,351.75 56.00,352.00" fill="none" stroke="#c41e28" stroke-width="1.45" stroke-linejoin="round" stroke-linecap="round"/>
<path d="M30.40,347.30 C31.00,347.67 32.82,348.72 34.00,349.50 C35.18,350.28 35.83,351.17 37.50,352.00 C39.17,352.83 41.63,353.70 44.00,354.50 C46.37,355.30 49.70,356.30 51.70,356.80 C53.70,357.30 55.28,357.38 56.00,357.50" fill="none" stroke="#c41e28" stroke-width="1.45" stroke-linejoin="round" stroke-linecap="round"/>
<path d="M30.40,347.30 C30.83,347.92 32.08,349.68 33.00,351.00 C33.92,352.32 34.98,353.70 35.90,355.20 C36.82,356.70 37.72,358.37 38.50,360.00 C39.28,361.63 40.25,364.17 40.60,365.00" fill="none" stroke="#c41e28" stroke-width="1.45" stroke-linejoin="round" stroke-linecap="round"/>
<path d="M64.00,333.00 C64.58,332.57 66.33,331.13 67.50,330.40 C68.67,329.67 69.83,328.60 71.00,328.60 C72.17,328.60 73.50,329.67 74.50,330.40 C75.50,331.13 76.58,332.57 77.00,333.00" fill="none" stroke="#c41e28" stroke-width="1.45" stroke-linejoin="round" stroke-linecap="round"/>
<path d="M128.00,336.00 C129.00,335.50 131.85,333.67 134.00,333.00 C136.15,332.33 139.75,332.17 140.90,332.00" fill="none" stroke="#c41e28" stroke-width="1.45" stroke-linejoin="round" stroke-linecap="round"/>
<path d="M128.00,341.00 C129.00,340.67 131.85,339.45 134.00,339.00 C136.15,338.55 139.75,338.42 140.90,338.30" fill="none" stroke="#c41e28" stroke-width="1.45" stroke-linejoin="round" stroke-linecap="round"/>
<path d="M128.00,347.00 C129.00,346.75 131.85,345.92 134.00,345.50 C136.15,345.08 139.75,344.67 140.90,344.50" fill="none" stroke="#c41e28" stroke-width="1.45" stroke-linejoin="round" stroke-linecap="round"/>
<path d="M128.00,351.00 C129.00,350.75 131.85,349.90 134.00,349.50 C136.15,349.10 139.75,348.75 140.90,348.60" fill="none" stroke="#c41e28" stroke-width="1.45" stroke-linejoin="round" stroke-linecap="round"/>
<path d="M38.50,182.00 C38.92,183.00 40.08,185.75 41.00,188.00 C41.92,190.25 43.07,193.23 44.00,195.50 C44.93,197.77 45.52,199.05 46.60,201.60 C47.68,204.15 48.97,207.30 50.50,210.80 C52.03,214.30 54.05,219.10 55.80,222.60 C57.55,226.10 59.25,229.17 61.00,231.80 C62.75,234.43 64.65,236.78 66.30,238.40 C67.95,240.02 69.58,241.72 70.90,241.50 C72.22,241.28 73.27,238.85 74.20,237.10 C75.13,235.35 75.83,233.18 76.50,231.00 C77.17,228.82 77.58,226.33 78.20,224.00 C78.82,221.67 79.55,219.20 80.20,217.00 C80.85,214.80 81.47,213.30 82.10,210.80 C82.73,208.30 83.45,204.63 84.00,202.00 C84.55,199.37 84.90,197.67 85.40,195.00 C85.90,192.33 86.63,188.17 87.00,186.00 C87.37,183.83 87.50,182.67 87.60,182.00" fill="none" stroke="#2479c8" stroke-width="1.45" stroke-linejoin="round" stroke-linecap="round"/>
<path d="M109.00,181.50 C109.83,182.17 112.32,184.53 114.00,185.50 C115.68,186.47 117.60,187.22 119.10,187.30 C120.60,187.38 121.68,186.97 123.00,186.00 C124.32,185.03 126.33,182.25 127.00,181.50" fill="none" stroke="#2479c8" stroke-width="1.45" stroke-linejoin="round" stroke-linecap="round"/>
<path d="M30.40,276.50 C30.83,277.00 32.08,278.42 33.00,279.50 C33.92,280.58 34.53,280.67 35.90,283.00 C37.27,285.33 39.48,289.83 41.20,293.50 C42.92,297.17 44.72,300.93 46.20,305.00 C47.68,309.07 48.75,314.35 50.10,317.90 C51.45,321.45 52.98,323.85 54.30,326.30 C55.62,328.75 56.90,330.98 58.00,332.60 C59.10,334.22 60.42,335.43 60.90,336.00" fill="none" stroke="#2479c8" stroke-width="1.45" stroke-linejoin="round" stroke-linecap="round"/>
<path d="M30.40,276.50 C31.00,276.92 32.65,277.92 34.00,279.00 C35.35,280.08 37.00,281.42 38.50,283.00 C40.00,284.58 41.47,286.75 43.00,288.50 C44.53,290.25 45.82,292.00 47.70,293.50 C49.58,295.00 51.88,296.65 54.30,297.50 C56.72,298.35 59.57,298.42 62.20,298.60 C64.83,298.78 68.23,298.23 70.10,298.60 C71.97,298.97 72.52,299.30 73.40,300.80 C74.28,302.30 74.55,305.17 75.40,307.60 C76.25,310.03 77.45,312.27 78.50,315.40 C79.55,318.53 80.78,323.52 81.70,326.40 C82.62,329.28 83.28,330.93 84.00,332.70 C84.72,334.47 85.67,336.28 86.00,337.00" fill="none" stroke="#2479c8" stroke-width="1.45" stroke-linejoin="round" stroke-linecap="round"/>
<path d="M30.40,292.90 C31.32,293.00 34.10,293.07 35.90,293.50 C37.70,293.93 39.53,294.33 41.20,295.50 C42.87,296.67 44.43,298.92 45.90,300.50 C47.37,302.08 48.60,303.58 50.00,305.00 C51.40,306.42 52.27,308.13 54.30,309.00 C56.33,309.87 59.47,309.92 62.20,310.20 C64.93,310.48 67.98,310.32 70.70,310.70 C73.42,311.08 75.88,311.20 78.50,312.50 C81.12,313.80 83.78,316.25 86.40,318.50 C89.02,320.75 91.58,324.88 94.20,326.00 C96.82,327.12 99.47,325.45 102.10,325.20 C104.73,324.95 107.30,324.18 110.00,324.50 C112.70,324.82 116.03,327.00 118.30,327.10 C120.57,327.20 121.85,326.32 123.60,325.10 C125.35,323.88 127.05,321.33 128.80,319.80 C130.55,318.27 132.08,316.98 134.10,315.90 C136.12,314.82 139.77,313.73 140.90,313.30" fill="none" stroke="#2479c8" stroke-width="1.45" stroke-linejoin="round" stroke-linecap="round"/>
<path d="M30.40,312.10 C31.75,312.28 36.27,312.58 38.50,313.20 C40.73,313.82 42.05,314.93 43.80,315.80 C45.55,316.67 46.63,317.27 49.00,318.40 C51.37,319.53 55.37,321.27 58.00,322.60 C60.63,323.93 62.68,325.40 64.80,326.40 C66.92,327.40 68.72,327.93 70.70,328.60 C72.68,329.27 74.82,330.00 76.70,330.40 C78.58,330.80 81.12,330.90 82.00,331.00" fill="none" stroke="#2479c8" stroke-width="1.45" stroke-linejoin="round" stroke-linecap="round"/>
<path d="M30.40,313.20 C31.05,313.63 32.95,314.48 34.30,315.80 C35.65,317.12 37.10,319.17 38.50,321.10 C39.90,323.03 41.30,325.13 42.70,327.40 C44.10,329.67 45.85,332.60 46.90,334.70 C47.95,336.80 48.65,339.12 49.00,340.00" fill="none" stroke="#2479c8" stroke-width="1.45" stroke-linejoin="round" stroke-linecap="round"/>
<path d="M75.40,310.70 C75.92,311.92 77.45,315.38 78.50,318.00 C79.55,320.62 80.78,323.95 81.70,326.40 C82.62,328.85 82.95,332.27 84.00,332.70 C85.05,333.13 86.30,330.05 88.00,329.00 C89.70,327.95 91.85,327.13 94.20,326.40 C96.55,325.67 99.80,325.08 102.10,324.60 C104.40,324.12 105.73,323.85 108.00,323.50 C110.27,323.15 112.88,323.77 115.70,322.50 C118.52,321.23 122.27,317.43 124.90,315.90 C127.53,314.37 128.83,313.85 131.50,313.30 C134.17,312.75 139.33,312.72 140.90,312.60" fill="none" stroke="#2479c8" stroke-width="1.45" stroke-linejoin="round" stroke-linecap="round"/>
<path d="M104.50,335.00 C105.17,332.92 107.00,326.00 108.50,322.50 C110.00,319.00 111.87,316.50 113.50,314.00 C115.13,311.50 116.88,309.42 118.30,307.50 C119.72,305.58 120.68,304.38 122.00,302.50 C123.32,300.62 124.87,298.37 126.20,296.20 C127.53,294.03 128.68,291.70 130.00,289.50 C131.32,287.30 132.93,284.67 134.10,283.00 C135.27,281.33 135.87,280.58 137.00,279.50 C138.13,278.42 140.25,277.00 140.90,276.50" fill="none" stroke="#2479c8" stroke-width="1.45" stroke-linejoin="round" stroke-linecap="round"/>
<path d="M108.50,335.00 C109.08,332.92 110.67,325.75 112.00,322.50 C113.33,319.25 115.00,317.70 116.50,315.50 C118.00,313.30 119.58,311.47 121.00,309.30 C122.42,307.13 123.70,304.68 125.00,302.50 C126.30,300.32 127.55,298.45 128.80,296.20 C130.05,293.95 131.28,291.20 132.50,289.00 C133.72,286.80 135.10,284.58 136.10,283.00 C137.10,281.42 137.70,280.53 138.50,279.50 C139.30,278.47 140.50,277.25 140.90,276.80" fill="none" stroke="#2479c8" stroke-width="1.45" stroke-linejoin="round" stroke-linecap="round"/>
<path d="M113.00,335.00 C113.50,332.92 114.92,325.50 116.00,322.50 C117.08,319.50 118.45,318.75 119.50,317.00 C120.55,315.25 121.38,313.67 122.30,312.00 C123.22,310.33 124.13,308.55 125.00,307.00 C125.87,305.45 126.67,304.12 127.50,302.70 C128.33,301.28 129.12,299.82 130.00,298.50 C130.88,297.18 131.72,295.72 132.80,294.80 C133.88,293.88 135.15,293.43 136.50,293.00 C137.85,292.57 140.17,292.33 140.90,292.20" fill="none" stroke="#2479c8" stroke-width="1.45" stroke-linejoin="round" stroke-linecap="round"/>
<path d="M124.90,333.00 C125.42,332.33 126.90,330.32 128.00,329.00 C129.10,327.68 130.17,326.27 131.50,325.10 C132.83,323.93 134.43,322.88 136.00,322.00 C137.57,321.12 140.08,320.17 140.90,319.80" fill="none" stroke="#2479c8" stroke-width="1.45" stroke-linejoin="round" stroke-linecap="round"/>
<path d="M39.50,366.50 C39.92,366.12 41.08,364.68 42.00,364.20 C42.92,363.72 44.00,363.58 45.00,363.60 C46.00,363.62 47.17,363.82 48.00,364.30 C48.83,364.78 49.67,366.13 50.00,366.50" fill="none" stroke="#2479c8" stroke-width="1.45" stroke-linejoin="round" stroke-linecap="round"/>
<path d="M73.80,311.00 C74.33,311.50 75.95,312.68 77.00,314.00 C78.05,315.32 79.27,317.07 80.10,318.90 C80.93,320.73 81.47,322.90 82.00,325.00 C82.53,327.10 83.08,330.42 83.30,331.50" fill="none" stroke="#2479c8" stroke-width="1.45" stroke-linejoin="round" stroke-linecap="round"/>
</g>
<rect x="30.50" y="183.00" width="110.50" height="183.00" fill="none" stroke="#111" stroke-width="1.3"/>
<line x1="148.00" y1="347.70" x2="153.00" y2="347.70" stroke="#111" stroke-width="1.1"/>
<line x1="148.00" y1="329.40" x2="153.00" y2="329.40" stroke="#111" stroke-width="1.1"/>
<line x1="148.00" y1="311.10" x2="153.00" y2="311.10" stroke="#111" stroke-width="1.1"/>
<line x1="148.00" y1="292.80" x2="153.00" y2="292.80" stroke="#111" stroke-width="1.1"/>
<line x1="148.00" y1="274.50" x2="153.00" y2="274.50" stroke="#111" stroke-width="1.1"/>
<line x1="148.00" y1="256.20" x2="153.00" y2="256.20" stroke="#111" stroke-width="1.1"/>
<line x1="148.00" y1="237.90" x2="153.00" y2="237.90" stroke="#111" stroke-width="1.1"/>
<line x1="148.00" y1="219.60" x2="153.00" y2="219.60" stroke="#111" stroke-width="1.1"/>
<line x1="148.00" y1="201.30" x2="153.00" y2="201.30" stroke="#111" stroke-width="1.1"/>
<line x1="188.45" y1="185.38" x2="188.45" y2="366.00" stroke="#2e2e2e" stroke-width="1.8" stroke-dasharray="1.9 1.82"/>
<line x1="211.80" y1="185.38" x2="211.80" y2="366.00" stroke="#2e2e2e" stroke-width="1.8" stroke-dasharray="1.9 1.82"/>
<line x1="148.00" y1="274.60" x2="258.50" y2="274.60" stroke="#333" stroke-width="1.4" stroke-dasharray="3.9 3.95" stroke-dashoffset="3.15"/>
<g clip-path="url(#cp1)">
<path d="M218.50,182.00 C219.08,183.33 220.92,187.75 222.00,190.00 C223.08,192.25 223.98,194.23 225.00,195.50 C226.02,196.77 227.02,197.60 228.10,197.60 C229.18,197.60 230.35,196.77 231.50,195.50 C232.65,194.23 233.80,192.25 235.00,190.00 C236.20,187.75 238.08,183.33 238.70,182.00" fill="none" stroke="#111" stroke-width="1.60" stroke-linejoin="round" stroke-linecap="round"/>
<path d="M148.60,277.00 C149.17,276.17 150.85,273.62 152.00,272.00 C153.15,270.38 154.25,268.72 155.50,267.30 C156.75,265.88 158.18,264.82 159.50,263.50 C160.82,262.18 162.23,260.82 163.40,259.40 C164.57,257.98 165.45,256.57 166.50,255.00 C167.55,253.43 168.82,251.63 169.70,250.00 C170.58,248.37 171.15,246.78 171.80,245.20 C172.45,243.62 172.97,242.07 173.60,240.50 C174.23,238.93 174.93,237.38 175.60,235.80 C176.27,234.22 176.87,233.05 177.60,231.00 C178.33,228.95 179.18,226.08 180.00,223.50 C180.82,220.92 181.67,217.83 182.50,215.50 C183.33,213.17 184.03,211.03 185.00,209.50 C185.97,207.97 187.13,206.72 188.30,206.30 C189.47,205.88 190.72,206.30 192.00,207.00 C193.28,207.70 194.67,209.08 196.00,210.50 C197.33,211.92 198.83,213.83 200.00,215.50 C201.17,217.17 202.00,218.62 203.00,220.50 C204.00,222.38 205.03,224.80 206.00,226.80 C206.97,228.80 207.90,230.78 208.80,232.50 C209.70,234.22 210.53,237.02 211.40,237.10 C212.27,237.18 213.07,234.93 214.00,233.00 C214.93,231.07 216.00,228.25 217.00,225.50 C218.00,222.75 219.08,218.92 220.00,216.50 C220.92,214.08 221.75,212.18 222.50,211.00 C223.25,209.82 223.75,209.40 224.50,209.40 C225.25,209.40 226.08,209.73 227.00,211.00 C227.92,212.27 229.00,214.75 230.00,217.00 C231.00,219.25 232.08,222.17 233.00,224.50 C233.92,226.83 234.58,228.58 235.50,231.00 C236.42,233.42 237.50,236.33 238.50,239.00 C239.50,241.67 240.58,244.42 241.50,247.00 C242.42,249.58 243.20,252.33 244.00,254.50 C244.80,256.67 245.47,258.17 246.30,260.00 C247.13,261.83 248.05,263.83 249.00,265.50 C249.95,267.17 251.00,268.50 252.00,270.00 C253.00,271.50 254.02,273.10 255.00,274.50 C255.98,275.90 257.42,277.75 257.90,278.40" fill="none" stroke="#111" stroke-width="1.60" stroke-linejoin="round" stroke-linecap="round"/>
<path d="M148.60,277.00 C149.00,276.00 150.10,273.08 151.00,271.00 C151.90,268.92 153.00,266.43 154.00,264.50 C155.00,262.57 156.00,261.23 157.00,259.40 C158.00,257.57 158.93,255.33 160.00,253.50 C161.07,251.67 162.07,249.98 163.40,248.40 C164.73,246.82 166.30,245.32 168.00,244.00 C169.70,242.68 171.93,241.58 173.60,240.50 C175.27,239.42 176.55,238.55 178.00,237.50 C179.45,236.45 181.05,235.07 182.30,234.20 C183.55,233.33 184.47,232.75 185.50,232.30 C186.53,231.85 187.42,231.58 188.50,231.50 C189.58,231.42 190.83,231.58 192.00,231.80 C193.17,232.02 194.42,232.27 195.50,232.80 C196.58,233.33 197.50,234.05 198.50,235.00 C199.50,235.95 200.50,237.07 201.50,238.50 C202.50,239.93 203.58,241.93 204.50,243.60 C205.42,245.27 206.17,246.97 207.00,248.50 C207.83,250.03 208.70,251.38 209.50,252.80 C210.30,254.22 210.97,255.63 211.80,257.00 C212.63,258.37 213.57,259.53 214.50,261.00 C215.43,262.47 216.40,264.30 217.40,265.80 C218.40,267.30 219.45,268.47 220.50,270.00 C221.55,271.53 222.65,272.92 223.70,275.00 C224.75,277.08 225.75,279.83 226.80,282.50 C227.85,285.17 228.85,288.50 230.00,291.00 C231.15,293.50 232.38,295.48 233.70,297.50 C235.02,299.52 236.68,301.60 237.90,303.10 C239.12,304.60 239.95,305.48 241.00,306.50 C242.05,307.52 243.03,308.48 244.20,309.20 C245.37,309.92 246.68,310.50 248.00,310.80 C249.32,311.10 251.02,311.10 252.10,311.00 C253.18,310.90 253.53,310.98 254.50,310.20 C255.47,309.42 257.33,306.95 257.90,306.30" fill="none" stroke="#111" stroke-width="1.60" stroke-linejoin="round" stroke-linecap="round"/>
<path d="M148.30,305.90 C148.80,306.67 150.38,308.73 151.30,310.50 C152.22,312.27 152.93,314.53 153.80,316.50 C154.67,318.47 155.60,320.02 156.50,322.30 C157.40,324.58 158.37,328.08 159.20,330.20 C160.03,332.32 160.85,333.68 161.50,335.00 C162.15,336.32 162.43,337.10 163.10,338.10 C163.77,339.10 164.68,340.25 165.50,341.00 C166.32,341.75 167.17,342.32 168.00,342.60 C168.83,342.88 169.67,342.97 170.50,342.70 C171.33,342.43 172.25,341.55 173.00,341.00 C173.75,340.45 174.08,340.15 175.00,339.40 C175.92,338.65 177.42,337.48 178.50,336.50 C179.58,335.52 180.42,334.28 181.50,333.50 C182.58,332.72 183.90,332.23 185.00,331.80 C186.10,331.37 187.23,331.78 188.10,330.90 C188.97,330.02 189.55,327.93 190.20,326.50 C190.85,325.07 191.33,323.88 192.00,322.30 C192.67,320.72 193.53,318.75 194.20,317.00 C194.87,315.25 195.12,314.38 196.00,311.80 C196.88,309.22 198.30,304.97 199.50,301.50 C200.70,298.03 202.12,294.08 203.20,291.00 C204.28,287.92 205.07,286.00 206.00,283.00 C206.93,280.00 207.83,277.33 208.80,273.00 C209.77,268.67 210.85,258.83 211.80,257.00 C212.75,255.17 213.57,260.33 214.50,262.00 C215.43,263.67 216.40,265.50 217.40,267.00 C218.40,268.50 219.45,269.93 220.50,271.00 C221.55,272.07 222.53,272.78 223.70,273.40 C224.87,274.02 226.18,274.50 227.50,274.70 C228.82,274.90 230.27,274.97 231.60,274.60 C232.93,274.23 234.18,273.60 235.50,272.50 C236.82,271.40 238.30,269.58 239.50,268.00 C240.70,266.42 241.65,264.30 242.70,263.00 C243.75,261.70 244.83,260.53 245.80,260.20 C246.77,259.87 247.63,260.20 248.50,261.00 C249.37,261.80 250.08,263.17 251.00,265.00 C251.92,266.83 252.85,269.73 254.00,272.00 C255.15,274.27 257.25,277.50 257.90,278.60" fill="none" stroke="#111" stroke-width="1.60" stroke-linejoin="round" stroke-linecap="round"/>
<path d="M148.30,311.80 C148.80,311.80 150.35,311.72 151.30,311.80 C152.25,311.88 153.13,312.08 154.00,312.30 C154.87,312.52 155.42,312.53 156.50,313.10 C157.58,313.67 159.18,314.38 160.50,315.70 C161.82,317.02 163.40,319.37 164.40,321.00 C165.40,322.63 165.83,323.97 166.50,325.50 C167.17,327.03 167.77,328.70 168.40,330.20 C169.03,331.70 169.65,333.18 170.30,334.50 C170.95,335.82 171.52,336.77 172.30,338.10 C173.08,339.43 174.12,341.18 175.00,342.50 C175.88,343.82 176.68,344.75 177.60,346.00 C178.52,347.25 179.48,348.83 180.50,350.00 C181.52,351.17 182.78,352.33 183.70,353.00 C184.62,353.67 185.22,353.75 186.00,354.00 C186.78,354.25 187.73,353.92 188.40,354.50 C189.07,355.08 189.48,356.45 190.00,357.50 C190.52,358.55 191.00,359.30 191.50,360.80 C192.00,362.30 192.75,365.55 193.00,366.50" fill="none" stroke="#111" stroke-width="1.60" stroke-linejoin="round" stroke-linecap="round"/>
<path d="M148.30,313.00 C148.58,313.50 149.42,314.83 150.00,316.00 C150.58,317.17 151.15,317.85 151.80,320.00 C152.45,322.15 153.32,326.57 153.90,328.90 C154.48,331.23 154.87,332.25 155.30,334.00 C155.73,335.75 156.08,337.07 156.50,339.40 C156.92,341.73 157.45,345.48 157.80,348.00 C158.15,350.52 158.07,353.08 158.60,354.50 C159.13,355.92 160.22,355.97 161.00,356.50 C161.78,357.03 162.47,357.32 163.30,357.70 C164.13,358.08 165.22,358.25 166.00,358.80 C166.78,359.35 167.42,359.72 168.00,361.00 C168.58,362.28 169.25,365.58 169.50,366.50" fill="none" stroke="#111" stroke-width="1.60" stroke-linejoin="round" stroke-linecap="round"/>
<path d="M148.30,312.50 C148.58,313.25 149.38,315.08 150.00,317.00 C150.62,318.92 151.45,321.67 152.00,324.00 C152.55,326.33 152.88,328.67 153.30,331.00 C153.72,333.33 154.08,335.50 154.50,338.00 C154.92,340.50 155.42,343.67 155.80,346.00 C156.18,348.33 156.52,350.00 156.80,352.00 C157.08,354.00 157.30,355.67 157.50,358.00 C157.70,360.33 157.92,364.67 158.00,366.00" fill="none" stroke="#111" stroke-width="1.60" stroke-linejoin="round" stroke-linecap="round"/>
<path d="M230.30,366.50 C230.75,365.08 232.22,360.33 233.00,358.00 C233.78,355.67 234.22,354.12 235.00,352.50 C235.78,350.88 236.62,349.88 237.70,348.30 C238.78,346.72 240.20,344.58 241.50,343.00 C242.80,341.42 244.42,340.22 245.50,338.80 C246.58,337.38 247.22,336.07 248.00,334.50 C248.78,332.93 249.48,331.07 250.20,329.40 C250.92,327.73 251.63,326.07 252.30,324.50 C252.97,322.93 253.58,321.33 254.20,320.00 C254.82,318.67 255.38,317.50 256.00,316.50 C256.62,315.50 257.58,314.42 257.90,314.00" fill="none" stroke="#111" stroke-width="1.60" stroke-linejoin="round" stroke-linecap="round"/>
<path d="M245.30,366.50 C245.55,364.92 246.30,360.08 246.80,357.00 C247.30,353.92 247.73,351.03 248.30,348.00 C248.87,344.97 249.55,341.97 250.20,338.80 C250.85,335.63 251.53,332.13 252.20,329.00 C252.87,325.87 253.57,322.17 254.20,320.00 C254.83,317.83 255.38,317.17 256.00,316.00 C256.62,314.83 257.58,313.50 257.90,313.00" fill="none" stroke="#111" stroke-width="1.60" stroke-linejoin="round" stroke-linecap="round"/>
</g>
<rect x="148.00" y="183.00" width="110.50" height="183.00" fill="none" stroke="#111" stroke-width="1.3"/>
<line x1="265.60" y1="347.70" x2="270.60" y2="347.70" stroke="#111" stroke-width="1.1"/>
<line x1="265.60" y1="329.40" x2="270.60" y2="329.40" stroke="#111" stroke-width="1.1"/>
<line x1="265.60" y1="311.10" x2="270.60" y2="311.10" stroke="#111" stroke-width="1.1"/>
<line x1="265.60" y1="292.80" x2="270.60" y2="292.80" stroke="#111" stroke-width="1.1"/>
<line x1="265.60" y1="274.50" x2="270.60" y2="274.50" stroke="#111" stroke-width="1.1"/>
<line x1="265.60" y1="256.20" x2="270.60" y2="256.20" stroke="#111" stroke-width="1.1"/>
<line x1="265.60" y1="237.90" x2="270.60" y2="237.90" stroke="#111" stroke-width="1.1"/>
<line x1="265.60" y1="219.60" x2="270.60" y2="219.60" stroke="#111" stroke-width="1.1"/>
<line x1="265.60" y1="201.30" x2="270.60" y2="201.30" stroke="#111" stroke-width="1.1"/>
<line x1="306.30" y1="185.38" x2="306.30" y2="366.00" stroke="#2e2e2e" stroke-width="1.8" stroke-dasharray="1.9 1.82"/>
<line x1="329.80" y1="185.38" x2="329.80" y2="366.00" stroke="#2e2e2e" stroke-width="1.8" stroke-dasharray="1.9 1.82"/>
<line x1="265.60" y1="274.60" x2="376.00" y2="274.60" stroke="#333" stroke-width="1.4" stroke-dasharray="3.9 3.95" stroke-dashoffset="6.85"/>
<g clip-path="url(#cp2)">
<path d="M271.00,182.30 C271.33,182.52 272.08,183.30 273.00,183.60 C273.92,183.90 275.33,184.10 276.50,184.10 C277.67,184.10 279.08,183.90 280.00,183.60 C280.92,183.30 281.67,182.52 282.00,182.30" fill="none" stroke="#111" stroke-width="1.60" stroke-linejoin="round" stroke-linecap="round"/>
<path d="M283.00,190.00 C283.50,190.67 284.90,193.00 286.00,194.00 C287.10,195.00 288.52,196.00 289.60,196.00 C290.68,196.00 291.52,194.92 292.50,194.00 C293.48,193.08 294.42,191.75 295.50,190.50 C296.58,189.25 297.92,187.70 299.00,186.50 C300.08,185.30 301.25,184.05 302.00,183.30 C302.75,182.55 303.25,182.22 303.50,182.00" fill="none" stroke="#111" stroke-width="1.60" stroke-linejoin="round" stroke-linecap="round"/>
<path d="M279.50,198.50 C280.00,199.00 281.47,200.73 282.50,201.50 C283.53,202.27 284.78,202.85 285.70,203.10 C286.62,203.35 287.03,203.43 288.00,203.00 C288.97,202.57 290.25,201.42 291.50,200.50 C292.75,199.58 294.08,198.42 295.50,197.50 C296.92,196.58 298.22,195.65 300.00,195.00 C301.78,194.35 304.37,193.60 306.20,193.60 C308.03,193.60 309.53,194.18 311.00,195.00 C312.47,195.82 313.75,197.33 315.00,198.50 C316.25,199.67 317.33,200.32 318.50,202.00 C319.67,203.68 320.92,206.93 322.00,208.60 C323.08,210.27 324.12,211.17 325.00,212.00 C325.88,212.83 326.50,213.23 327.30,213.60 C328.10,213.97 328.93,214.30 329.80,214.20 C330.67,214.10 331.47,214.03 332.50,213.00 C333.53,211.97 334.83,209.75 336.00,208.00 C337.17,206.25 338.42,203.97 339.50,202.50 C340.58,201.03 341.50,199.58 342.50,199.20 C343.50,198.82 344.47,199.32 345.50,200.20 C346.53,201.08 347.62,203.22 348.70,204.50 C349.78,205.78 350.95,207.48 352.00,207.90 C353.05,208.32 353.83,208.15 355.00,207.00 C356.17,205.85 357.67,203.17 359.00,201.00 C360.33,198.83 361.83,196.00 363.00,194.00 C364.17,192.00 365.07,190.77 366.00,189.00 C366.93,187.23 368.07,184.57 368.60,183.40 C369.13,182.23 369.10,182.23 369.20,182.00" fill="none" stroke="#111" stroke-width="1.60" stroke-linejoin="round" stroke-linecap="round"/>
<path d="M343.50,182.00 C344.08,182.67 345.75,184.58 347.00,186.00 C348.25,187.42 349.50,189.37 351.00,190.50 C352.50,191.63 354.50,192.72 356.00,192.80 C357.50,192.88 358.83,191.88 360.00,191.00 C361.17,190.12 362.07,189.00 363.00,187.50 C363.93,186.00 365.17,182.92 365.60,182.00" fill="none" stroke="#111" stroke-width="1.60" stroke-linejoin="round" stroke-linecap="round"/>
<path d="M354.60,182.00 C355.08,182.58 356.48,184.62 357.50,185.50 C358.52,186.38 359.70,187.22 360.70,187.30 C361.70,187.38 362.45,186.88 363.50,186.00 C364.55,185.12 366.42,182.67 367.00,182.00" fill="none" stroke="#111" stroke-width="1.60" stroke-linejoin="round" stroke-linecap="round"/>
<path d="M265.80,282.60 C266.50,282.72 268.53,282.90 270.00,283.30 C271.47,283.70 273.18,284.05 274.60,285.00 C276.02,285.95 277.18,287.30 278.50,289.00 C279.82,290.70 281.42,293.28 282.50,295.20 C283.58,297.12 284.20,298.65 285.00,300.50 C285.80,302.35 286.47,304.63 287.30,306.30 C288.13,307.97 289.08,309.32 290.00,310.50 C290.92,311.68 291.80,313.23 292.80,313.40 C293.80,313.57 294.82,312.55 296.00,311.50 C297.18,310.45 298.77,308.38 299.90,307.10 C301.03,305.82 301.88,304.65 302.80,303.80 C303.72,302.95 304.65,302.53 305.40,302.00 C306.15,301.47 306.70,301.23 307.30,300.60 C307.90,299.97 308.38,299.03 309.00,298.20 C309.62,297.37 310.08,296.75 311.00,295.60 C311.92,294.45 313.33,292.68 314.50,291.30 C315.67,289.92 316.75,288.62 318.00,287.30 C319.25,285.98 320.75,284.70 322.00,283.40 C323.25,282.10 324.33,280.47 325.50,279.50 C326.67,278.53 327.83,277.72 329.00,277.60 C330.17,277.48 331.42,278.07 332.50,278.80 C333.58,279.53 334.58,280.72 335.50,282.00 C336.42,283.28 337.23,285.00 338.00,286.50 C338.77,288.00 339.22,289.28 340.10,291.00 C340.98,292.72 342.15,294.97 343.30,296.80 C344.45,298.63 345.68,300.55 347.00,302.00 C348.32,303.45 349.87,305.17 351.20,305.50 C352.53,305.83 353.70,305.45 355.00,304.00 C356.30,302.55 357.67,299.05 359.00,296.80 C360.33,294.55 361.67,292.35 363.00,290.50 C364.33,288.65 365.67,286.92 367.00,285.70 C368.33,284.48 369.55,283.72 371.00,283.20 C372.45,282.68 374.92,282.70 375.70,282.60" fill="none" stroke="#111" stroke-width="1.60" stroke-linejoin="round" stroke-linecap="round"/>
<path d="M265.80,335.70 C266.25,334.75 267.57,331.73 268.50,330.00 C269.43,328.27 270.43,326.80 271.40,325.30 C272.37,323.80 273.37,322.02 274.30,321.00 C275.23,319.98 275.97,319.12 277.00,319.20 C278.03,319.28 279.33,320.20 280.50,321.50 C281.67,322.80 282.87,325.07 284.00,327.00 C285.13,328.93 286.37,331.43 287.30,333.10 C288.23,334.77 288.65,335.60 289.60,337.00 C290.55,338.40 291.58,339.88 293.00,341.50 C294.42,343.12 296.60,345.28 298.10,346.70 C299.60,348.12 300.68,349.25 302.00,350.00 C303.32,350.75 304.67,351.05 306.00,351.20 C307.33,351.35 308.70,351.05 310.00,350.90 C311.30,350.75 312.55,350.37 313.80,350.30 C315.05,350.23 316.18,350.05 317.50,350.50 C318.82,350.95 320.37,351.83 321.70,353.00 C323.03,354.17 324.15,356.20 325.50,357.50 C326.85,358.80 328.55,360.63 329.80,360.80 C331.05,360.97 331.80,359.97 333.00,358.50 C334.20,357.03 335.58,354.50 337.00,352.00 C338.42,349.50 340.00,346.50 341.50,343.50 C343.00,340.50 344.42,337.40 346.00,334.00 C347.58,330.60 349.50,326.05 351.00,323.10 C352.50,320.15 353.67,317.78 355.00,316.30 C356.33,314.82 357.67,314.17 359.00,314.20 C360.33,314.23 361.67,315.53 363.00,316.50 C364.33,317.47 365.55,318.02 367.00,320.00 C368.45,321.98 370.25,326.82 371.70,328.40 C373.15,329.98 375.03,329.32 375.70,329.50" fill="none" stroke="#111" stroke-width="1.60" stroke-linejoin="round" stroke-linecap="round"/>
<path d="M275.30,366.50 C275.75,365.58 277.08,362.73 278.00,361.00 C278.92,359.27 279.72,358.35 280.80,356.10 C281.88,353.85 283.05,350.90 284.50,347.50 C285.95,344.10 287.92,339.20 289.50,335.70 C291.08,332.20 292.30,329.12 294.00,326.50 C295.70,323.88 298.20,321.53 299.70,320.00 C301.20,318.47 301.92,318.00 303.00,317.30 C304.08,316.60 305.28,315.68 306.20,315.80 C307.12,315.92 307.78,316.30 308.50,318.00 C309.22,319.70 309.82,322.67 310.50,326.00 C311.18,329.33 312.05,334.28 312.60,338.00 C313.15,341.72 313.32,345.13 313.80,348.30 C314.28,351.47 314.97,353.97 315.50,357.00 C316.03,360.03 316.75,364.92 317.00,366.50" fill="none" stroke="#111" stroke-width="1.60" stroke-linejoin="round" stroke-linecap="round"/>
<path d="M265.80,329.40 C266.22,329.57 267.37,329.62 268.30,330.40 C269.23,331.18 270.37,332.50 271.40,334.10 C272.43,335.70 273.45,337.90 274.50,340.00 C275.55,342.10 276.87,344.78 277.70,346.70 C278.53,348.62 278.98,349.93 279.50,351.50 C280.02,353.07 280.22,354.52 280.80,356.10 C281.38,357.68 282.22,359.27 283.00,361.00 C283.78,362.73 285.08,365.58 285.50,366.50" fill="none" stroke="#111" stroke-width="1.60" stroke-linejoin="round" stroke-linecap="round"/>
<path d="M265.80,348.30 C266.08,348.92 266.97,350.70 267.50,352.00 C268.03,353.30 268.53,354.68 269.00,356.10 C269.47,357.52 269.90,358.77 270.30,360.50 C270.70,362.23 271.22,365.50 271.40,366.50" fill="none" stroke="#111" stroke-width="1.60" stroke-linejoin="round" stroke-linecap="round"/>
<path d="M347.50,366.50 C347.92,365.42 349.17,361.92 350.00,360.00 C350.83,358.08 351.55,356.30 352.50,355.00 C353.45,353.70 354.70,352.28 355.70,352.20 C356.70,352.12 357.58,353.45 358.50,354.50 C359.42,355.55 360.37,358.58 361.20,358.50 C362.03,358.42 362.70,355.92 363.50,354.00 C364.30,352.08 364.95,349.78 366.00,347.00 C367.05,344.22 368.72,339.42 369.80,337.30 C370.88,335.18 371.52,334.83 372.50,334.30 C373.48,333.77 375.17,334.13 375.70,334.10" fill="none" stroke="#111" stroke-width="1.60" stroke-linejoin="round" stroke-linecap="round"/>
<path d="M361.00,366.50 C361.17,365.92 361.72,363.82 362.00,363.00 C362.28,362.18 362.40,361.60 362.70,361.60 C363.00,361.60 363.42,362.18 363.80,363.00 C364.18,363.82 364.80,365.92 365.00,366.50" fill="none" stroke="#111" stroke-width="1.60" stroke-linejoin="round" stroke-linecap="round"/>
<path d="M369.80,366.50 C370.08,365.50 370.88,362.50 371.50,360.50 C372.12,358.50 372.80,356.28 373.50,354.50 C374.20,352.72 375.33,350.58 375.70,349.80" fill="none" stroke="#111" stroke-width="1.60" stroke-linejoin="round" stroke-linecap="round"/>
</g>
<rect x="265.60" y="183.00" width="110.40" height="183.00" fill="none" stroke="#111" stroke-width="1.3"/>
<rect x="35.5" y="186" width="21.5" height="16.5" fill="#fff"/>
<rect x="272" y="186" width="15.5" height="14.5" fill="#fff"/>
<rect x="54" y="334.3" width="84.3" height="29" fill="#fff"/>
<path d="M54,363.3 L54,334.3 L136,334.3" fill="none" stroke="#bbbcc4" stroke-width="1.5"/>
<path d="M138.4,334.6 L138.4,363.3 L54,363.3" fill="none" stroke="#222" stroke-width="1.3"/>
<line x1="55" y1="341.8" x2="83.3" y2="341.8" stroke="#c41e28" stroke-width="1.9"/>
<line x1="55" y1="355.8" x2="83.3" y2="355.8" stroke="#2479c8" stroke-width="1.9"/>
<text x="47" y="11.8" font-size="15" text-anchor="middle" font-family="Liberation Serif, serif" fill="#111" stroke="#111" stroke-width="0.12">(a)</text>
<text x="173" y="11.8" font-size="15" text-anchor="middle" font-family="Liberation Serif, serif" fill="#111" stroke="#111" stroke-width="0.12">(b)</text>
<text x="280" y="11.8" font-size="15" text-anchor="middle" font-family="Liberation Serif, serif" fill="#111" stroke="#111" stroke-width="0.12">(c)</text>
<text x="21.8" y="53.6" font-size="14.8" text-anchor="middle" font-family="Liberation Serif, serif" fill="#111" stroke="#111" stroke-width="0.12">Top</text>
<text x="21.5" y="70.8" font-size="14.5" text-anchor="middle" font-family="Liberation Serif, serif" fill="#111" stroke="#111" stroke-width="0.12">view</text>
<text x="23" y="122" font-size="14.5" text-anchor="middle" font-family="Liberation Serif, serif" fill="#111" stroke="#111" stroke-width="0.12">Side</text>
<text x="23" y="140" font-size="14.5" text-anchor="middle" font-family="Liberation Serif, serif" fill="#111" stroke="#111" stroke-width="0.12">view</text>
<text x="52.5" y="61" font-size="14" text-anchor="middle" font-family="Liberation Serif, serif" fill="#111" stroke="#111" stroke-width="0.12">y</text>
<text x="49.5" y="92" font-size="14" text-anchor="middle" font-family="Liberation Serif, serif" fill="#111" stroke="#111" stroke-width="0.12">z</text>
<text x="73.7" y="92" font-size="14" text-anchor="middle" font-family="Liberation Serif, serif" fill="#111" stroke="#111" stroke-width="0.12">x</text>
<text x="56" y="141" font-size="14" text-anchor="middle" font-family="Liberation Serif, serif" fill="#111" stroke="#111" stroke-width="0.12">z</text>
<text x="42.6" y="170" font-size="14" text-anchor="middle" font-family="Liberation Serif, serif" fill="#111" stroke="#111" stroke-width="0.12">x</text>
<text x="73.8" y="167" font-size="14" text-anchor="middle" font-family="Liberation Serif, serif" fill="#111" stroke="#111" stroke-width="0.12">y</text>
<text x="45" y="198.2" font-size="15" text-anchor="middle" font-family="Liberation Serif, serif" fill="#111" stroke="#111" stroke-width="0.12">(d)</text>
<text x="160.5" y="198.2" font-size="15" text-anchor="middle" font-family="Liberation Serif, serif" fill="#111" stroke="#111" stroke-width="0.12">(e)</text>
<text x="280" y="198.2" font-size="15" text-anchor="middle" font-family="Liberation Serif, serif" fill="#111" stroke="#111" stroke-width="0.12">(f)</text>
<text x="24.5" y="204.80" font-size="12" text-anchor="end" font-family="Liberation Serif, serif" fill="#111" stroke="#111" stroke-width="0.12">2</text>
<text x="24.5" y="241.40" font-size="12" text-anchor="end" font-family="Liberation Serif, serif" fill="#111" stroke="#111" stroke-width="0.12">1</text>
<text x="24.5" y="278.00" font-size="12" text-anchor="end" font-family="Liberation Serif, serif" fill="#111" stroke="#111" stroke-width="0.12">0</text>
<text x="24.5" y="314.60" font-size="12" text-anchor="end" font-family="Liberation Serif, serif" fill="#111" stroke="#111" stroke-width="0.12">-1</text>
<text x="24.5" y="351.20" font-size="12" text-anchor="end" font-family="Liberation Serif, serif" fill="#111" stroke="#111" stroke-width="0.12">-2</text>
<text transform="translate(9.8,275) rotate(-90)" font-size="12.5" text-anchor="middle" font-family="Liberation Serif, serif" fill="#111" stroke="#111" stroke-width="0.12">Energy (eV)</text>
<text x="31.30" y="377.5" font-size="11.5" text-anchor="middle" font-family="Liberation Serif, serif" fill="#111" stroke="#111" stroke-width="0.12">Γ</text>
<text x="70.50" y="377.5" font-size="11.5" text-anchor="middle" font-family="Liberation Serif, serif" fill="#111" stroke="#111" stroke-width="0.12">M</text>
<text x="95.30" y="377.5" font-size="11.5" text-anchor="middle" font-family="Liberation Serif, serif" fill="#111" stroke="#111" stroke-width="0.12">K</text>
<text x="137.50" y="377.5" font-size="11.5" text-anchor="middle" font-family="Liberation Serif, serif" fill="#111" stroke="#111" stroke-width="0.12">Γ</text>
<text x="150.70" y="377.5" font-size="11.5" text-anchor="middle" font-family="Liberation Serif, serif" fill="#111" stroke="#111" stroke-width="0.12">Γ</text>
<text x="186.80" y="377.5" font-size="11.5" text-anchor="middle" font-family="Liberation Serif, serif" fill="#111" stroke="#111" stroke-width="0.12">M</text>
<text x="213.60" y="377.5" font-size="11.5" text-anchor="middle" font-family="Liberation Serif, serif" fill="#111" stroke="#111" stroke-width="0.12">K</text>
<text x="256.50" y="377.5" font-size="11.5" text-anchor="middle" font-family="Liberation Serif, serif" fill="#111" stroke="#111" stroke-width="0.12">Γ</text>
<text x="272.50" y="377.5" font-size="11.5" text-anchor="middle" font-family="Liberation Serif, serif" fill="#111" stroke="#111" stroke-width="0.12">Γ</text>
<text x="308.10" y="377.5" font-size="11.5" text-anchor="middle" font-family="Liberation Serif, serif" fill="#111" stroke="#111" stroke-width="0.12">M</text>
<text x="332.30" y="377.5" font-size="11.5" text-anchor="middle" font-family="Liberation Serif, serif" fill="#111" stroke="#111" stroke-width="0.12">K</text>
<text x="376.80" y="377.5" font-size="11.5" text-anchor="middle" font-family="Liberation Serif, serif" fill="#111" stroke="#111" stroke-width="0.12">Γ</text>
<text x="86" y="345.8" font-size="12.5" font-family="Liberation Serif, serif" fill="#111" stroke="#111" stroke-width="0.12">spin up</text>
<text x="86" y="359.3" font-size="12.5" font-family="Liberation Serif, serif" fill="#111" stroke="#111" stroke-width="0.12">spin down</text>
</svg>
</body></html>
